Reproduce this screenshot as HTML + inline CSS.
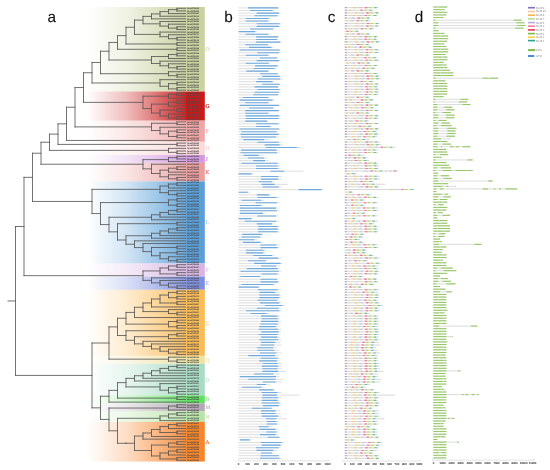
<!DOCTYPE html>
<html><head><meta charset="utf-8"><title>Phylogeny, domains, motifs and gene structure</title>
<style>html,body{margin:0;padding:0;background:#fff;}svg{display:block;}</style>
</head><body>
<svg width="550" height="470" viewBox="0 0 550 470" text-rendering="geometricPrecision">
<defs>
<linearGradient id="g0" x1="0" x2="1" y1="0" y2="0"><stop offset="0" stop-color="#ccd3a4" stop-opacity="0"/><stop offset="0.4" stop-color="#ccd3a4" stop-opacity="0.3"/><stop offset="0.7" stop-color="#ccd3a4" stop-opacity="0.63"/><stop offset="1" stop-color="#ccd3a4" stop-opacity="1"/></linearGradient>
<linearGradient id="g1" x1="0" x2="1" y1="0" y2="0"><stop offset="0" stop-color="#cc2424" stop-opacity="0"/><stop offset="0.4" stop-color="#cc2424" stop-opacity="0.3"/><stop offset="0.7" stop-color="#cc2424" stop-opacity="0.63"/><stop offset="1" stop-color="#cc2424" stop-opacity="1"/></linearGradient>
<linearGradient id="g2" x1="0" x2="1" y1="0" y2="0"><stop offset="0" stop-color="#f2b0b0" stop-opacity="0"/><stop offset="0.4" stop-color="#f2b0b0" stop-opacity="0.3"/><stop offset="0.7" stop-color="#f2b0b0" stop-opacity="0.63"/><stop offset="1" stop-color="#f2b0b0" stop-opacity="1"/></linearGradient>
<linearGradient id="g3" x1="0" x2="1" y1="0" y2="0"><stop offset="0" stop-color="#fadcdc" stop-opacity="0"/><stop offset="0.4" stop-color="#fadcdc" stop-opacity="0.3"/><stop offset="0.7" stop-color="#fadcdc" stop-opacity="0.63"/><stop offset="1" stop-color="#fadcdc" stop-opacity="1"/></linearGradient>
<linearGradient id="g4" x1="0" x2="1" y1="0" y2="0"><stop offset="0" stop-color="#d8a4e2" stop-opacity="0"/><stop offset="0.4" stop-color="#d8a4e2" stop-opacity="0.3"/><stop offset="0.7" stop-color="#d8a4e2" stop-opacity="0.63"/><stop offset="1" stop-color="#d8a4e2" stop-opacity="1"/></linearGradient>
<linearGradient id="g5" x1="0" x2="1" y1="0" y2="0"><stop offset="0" stop-color="#eea8a8" stop-opacity="0"/><stop offset="0.4" stop-color="#eea8a8" stop-opacity="0.3"/><stop offset="0.7" stop-color="#eea8a8" stop-opacity="0.63"/><stop offset="1" stop-color="#eea8a8" stop-opacity="1"/></linearGradient>
<linearGradient id="g6" x1="0" x2="1" y1="0" y2="0"><stop offset="0" stop-color="#6aa9dc" stop-opacity="0"/><stop offset="0.4" stop-color="#6aa9dc" stop-opacity="0.3"/><stop offset="0.7" stop-color="#6aa9dc" stop-opacity="0.63"/><stop offset="1" stop-color="#6aa9dc" stop-opacity="1"/></linearGradient>
<linearGradient id="g7" x1="0" x2="1" y1="0" y2="0"><stop offset="0" stop-color="#dcbce4" stop-opacity="0"/><stop offset="0.4" stop-color="#dcbce4" stop-opacity="0.3"/><stop offset="0.7" stop-color="#dcbce4" stop-opacity="0.63"/><stop offset="1" stop-color="#dcbce4" stop-opacity="1"/></linearGradient>
<linearGradient id="g8" x1="0" x2="1" y1="0" y2="0"><stop offset="0" stop-color="#8797e2" stop-opacity="0"/><stop offset="0.4" stop-color="#8797e2" stop-opacity="0.3"/><stop offset="0.7" stop-color="#8797e2" stop-opacity="0.63"/><stop offset="1" stop-color="#8797e2" stop-opacity="1"/></linearGradient>
<linearGradient id="g9" x1="0" x2="1" y1="0" y2="0"><stop offset="0" stop-color="#fbc064" stop-opacity="0"/><stop offset="0.4" stop-color="#fbc064" stop-opacity="0.3"/><stop offset="0.7" stop-color="#fbc064" stop-opacity="0.63"/><stop offset="1" stop-color="#fbc064" stop-opacity="1"/></linearGradient>
<linearGradient id="g10" x1="0" x2="1" y1="0" y2="0"><stop offset="0" stop-color="#f0e4a8" stop-opacity="0"/><stop offset="0.4" stop-color="#f0e4a8" stop-opacity="0.3"/><stop offset="0.7" stop-color="#f0e4a8" stop-opacity="0.63"/><stop offset="1" stop-color="#f0e4a8" stop-opacity="1"/></linearGradient>
<linearGradient id="g11" x1="0" x2="1" y1="0" y2="0"><stop offset="0" stop-color="#b0dfc9" stop-opacity="0"/><stop offset="0.4" stop-color="#b0dfc9" stop-opacity="0.3"/><stop offset="0.7" stop-color="#b0dfc9" stop-opacity="0.63"/><stop offset="1" stop-color="#b0dfc9" stop-opacity="1"/></linearGradient>
<linearGradient id="g12" x1="0" x2="1" y1="0" y2="0"><stop offset="0" stop-color="#70e470" stop-opacity="0"/><stop offset="0.4" stop-color="#70e470" stop-opacity="0.3"/><stop offset="0.7" stop-color="#70e470" stop-opacity="0.63"/><stop offset="1" stop-color="#70e470" stop-opacity="1"/></linearGradient>
<linearGradient id="g13" x1="0" x2="1" y1="0" y2="0"><stop offset="0" stop-color="#bab0ba" stop-opacity="0"/><stop offset="0.4" stop-color="#bab0ba" stop-opacity="0.3"/><stop offset="0.7" stop-color="#bab0ba" stop-opacity="0.63"/><stop offset="1" stop-color="#bab0ba" stop-opacity="1"/></linearGradient>
<linearGradient id="g14" x1="0" x2="1" y1="0" y2="0"><stop offset="0" stop-color="#c0e8b0" stop-opacity="0"/><stop offset="0.4" stop-color="#c0e8b0" stop-opacity="0.3"/><stop offset="0.7" stop-color="#c0e8b0" stop-opacity="0.63"/><stop offset="1" stop-color="#c0e8b0" stop-opacity="1"/></linearGradient>
<linearGradient id="g15" x1="0" x2="1" y1="0" y2="0"><stop offset="0" stop-color="#f89040" stop-opacity="0"/><stop offset="0.4" stop-color="#f89040" stop-opacity="0.3"/><stop offset="0.7" stop-color="#f89040" stop-opacity="0.63"/><stop offset="1" stop-color="#f89040" stop-opacity="1"/></linearGradient>
</defs>
<rect width="550" height="470" fill="#fff"/>
<rect x="87.0" y="6.98" width="99.0" height="84.58" fill="url(#g0)"/>
<rect x="186.0" y="6.98" width="18.8" height="84.58" fill="#cad2a0"/>
<rect x="87.0" y="91.55" width="99.0" height="29.07" fill="url(#g1)"/>
<rect x="186.0" y="91.55" width="18.8" height="29.07" fill="#c81a1a"/>
<rect x="87.0" y="120.63" width="99.0" height="21.14" fill="url(#g2)"/>
<rect x="186.0" y="120.63" width="18.8" height="21.14" fill="#f0a6a6"/>
<rect x="87.0" y="141.77" width="99.0" height="13.21" fill="url(#g3)"/>
<rect x="186.0" y="141.77" width="18.8" height="13.21" fill="#fadada"/>
<rect x="87.0" y="154.99" width="99.0" height="7.93" fill="url(#g4)"/>
<rect x="186.0" y="154.99" width="18.8" height="7.93" fill="#d49ae0"/>
<rect x="87.0" y="162.92" width="99.0" height="18.50" fill="url(#g5)"/>
<rect x="186.0" y="162.92" width="18.8" height="18.50" fill="#eb9c9c"/>
<rect x="87.0" y="181.42" width="99.0" height="81.93" fill="url(#g6)"/>
<rect x="186.0" y="181.42" width="18.8" height="81.93" fill="#5a9fd8"/>
<rect x="87.0" y="263.35" width="99.0" height="13.22" fill="url(#g7)"/>
<rect x="186.0" y="263.35" width="18.8" height="13.22" fill="#d8b4e0"/>
<rect x="87.0" y="276.56" width="99.0" height="13.22" fill="url(#g8)"/>
<rect x="186.0" y="276.56" width="18.8" height="13.22" fill="#7f8fe0"/>
<rect x="87.0" y="289.78" width="99.0" height="66.07" fill="url(#g9)"/>
<rect x="186.0" y="289.78" width="18.8" height="66.07" fill="#fbbb55"/>
<rect x="87.0" y="355.85" width="99.0" height="7.93" fill="url(#g10)"/>
<rect x="186.0" y="355.85" width="18.8" height="7.93" fill="#efe3a0"/>
<rect x="87.0" y="363.78" width="99.0" height="31.72" fill="url(#g11)"/>
<rect x="186.0" y="363.78" width="18.8" height="31.72" fill="#a8dcc4"/>
<rect x="87.0" y="395.50" width="99.0" height="7.93" fill="url(#g12)"/>
<rect x="186.0" y="395.50" width="18.8" height="7.93" fill="#60e060"/>
<rect x="87.0" y="403.43" width="99.0" height="7.93" fill="url(#g13)"/>
<rect x="186.0" y="403.43" width="18.8" height="7.93" fill="#b4a8b4"/>
<rect x="87.0" y="411.36" width="99.0" height="10.57" fill="url(#g14)"/>
<rect x="186.0" y="411.36" width="18.8" height="10.57" fill="#b8e4a8"/>
<rect x="87.0" y="421.93" width="99.0" height="39.65" fill="url(#g15)"/>
<rect x="186.0" y="421.93" width="18.8" height="39.65" fill="#f7862a"/>
<path d="M15.50 226.50L15.50 375.43M15.50 226.50L24.00 226.50M24.00 177.35L24.00 275.66M24.00 177.35L32.50 177.35M32.50 153.24L32.50 201.45M32.50 153.24L41.00 153.24M41.00 142.24L41.00 164.24M41.00 142.24L49.50 142.24M49.50 134.13L49.50 150.36M49.50 134.13L58.00 134.13M58.00 123.84L58.00 144.41M58.00 123.84L66.50 123.84M66.50 107.23L66.50 140.45M66.50 107.23L75.00 107.23M75.00 87.55L75.00 126.90M75.00 87.55L83.50 87.55M83.50 72.72L83.50 102.37M83.50 72.72L92.00 72.72M92.00 62.47L92.00 82.96M92.00 62.47L100.50 62.47M100.50 51.22L100.50 73.71M100.50 51.22L109.00 51.22M109.00 42.44L109.00 60.00M109.00 42.44L117.50 42.44M117.50 35.62L117.50 49.27M117.50 35.62L126.00 35.62M126.00 27.26L126.00 43.98M126.00 27.26L134.50 27.26M134.50 20.11L134.50 34.40M134.50 20.11L143.00 20.11M143.00 16.39L143.00 23.83M143.00 16.39L151.50 16.39M151.50 13.92L151.50 18.87M151.50 13.92L160.00 13.92M160.00 11.60L160.00 16.23M160.00 11.60L168.50 11.60M168.50 9.62L168.50 13.59M168.50 9.62L177.00 9.62M177.00 8.30L177.00 10.94M177.00 8.30L185.50 8.30M177.00 10.94L185.50 10.94M168.50 13.59L185.50 13.59M160.00 16.23L185.50 16.23M151.50 18.87L185.50 18.87M143.00 23.83L160.00 23.83M160.00 21.52L160.00 26.14M160.00 21.52L185.50 21.52M160.00 26.14L168.50 26.14M168.50 24.16L168.50 28.12M168.50 24.16L185.50 24.16M168.50 28.12L177.00 28.12M177.00 26.80L177.00 29.44M177.00 26.80L185.50 26.80M177.00 29.44L185.50 29.44M134.50 34.40L160.00 34.40M160.00 32.09L160.00 36.71M160.00 32.09L185.50 32.09M160.00 36.71L168.50 36.71M168.50 34.73L168.50 38.69M168.50 34.73L185.50 34.73M168.50 38.69L177.00 38.69M177.00 37.37L177.00 40.02M177.00 37.37L185.50 37.37M177.00 40.02L185.50 40.02M126.00 43.98L177.00 43.98M177.00 42.66L177.00 45.30M177.00 42.66L185.50 42.66M177.00 45.30L185.50 45.30M117.50 49.27L177.00 49.27M177.00 47.94L177.00 50.59M177.00 47.94L185.50 47.94M177.00 50.59L185.50 50.59M109.00 60.00L151.50 60.00M151.50 56.53L151.50 63.47M151.50 56.53L168.50 56.53M168.50 54.55L168.50 58.52M168.50 54.55L177.00 54.55M177.00 53.23L177.00 55.87M177.00 53.23L185.50 53.23M177.00 55.87L185.50 55.87M168.50 58.52L185.50 58.52M151.50 63.47L160.00 63.47M160.00 61.16L160.00 65.79M160.00 61.16L185.50 61.16M160.00 65.79L168.50 65.79M168.50 63.80L168.50 67.77M168.50 63.80L185.50 63.80M168.50 67.77L177.00 67.77M177.00 66.45L177.00 69.09M177.00 66.45L185.50 66.45M177.00 69.09L185.50 69.09M100.50 73.71L168.50 73.71M168.50 71.73L168.50 75.70M168.50 71.73L185.50 71.73M168.50 75.70L177.00 75.70M177.00 74.37L177.00 77.02M177.00 74.37L185.50 74.37M177.00 77.02L185.50 77.02M92.00 82.96L160.00 82.96M160.00 79.66L160.00 86.27M160.00 79.66L185.50 79.66M160.00 86.27L168.50 86.27M168.50 83.63L168.50 88.91M168.50 83.63L177.00 83.63M177.00 82.30L177.00 84.95M177.00 82.30L185.50 82.30M177.00 84.95L185.50 84.95M168.50 88.91L177.00 88.91M177.00 87.59L177.00 90.23M177.00 87.59L185.50 87.59M177.00 90.23L185.50 90.23M83.50 102.37L143.00 102.37M143.00 96.18L143.00 108.57M143.00 96.18L168.50 96.18M168.50 94.20L168.50 98.16M168.50 94.20L177.00 94.20M177.00 92.88L177.00 95.52M177.00 92.88L185.50 92.88M177.00 95.52L185.50 95.52M168.50 98.16L185.50 98.16M143.00 108.57L151.50 108.57M151.50 104.11L151.50 113.03M151.50 104.11L168.50 104.11M168.50 102.13L168.50 106.09M168.50 102.13L177.00 102.13M177.00 100.80L177.00 103.45M177.00 100.80L185.50 100.80M177.00 103.45L185.50 103.45M168.50 106.09L185.50 106.09M151.50 113.03L160.00 113.03M160.00 110.06L160.00 116.00M160.00 110.06L177.00 110.06M177.00 108.73L177.00 111.38M177.00 108.73L185.50 108.73M177.00 111.38L185.50 111.38M160.00 116.00L168.50 116.00M168.50 114.02L168.50 117.98M168.50 114.02L185.50 114.02M168.50 117.98L177.00 117.98M177.00 116.66L177.00 119.31M177.00 116.66L185.50 116.66M177.00 119.31L185.50 119.31M75.00 126.90L151.50 126.90M151.50 123.27L151.50 130.54M151.50 123.27L177.00 123.27M177.00 121.95L177.00 124.59M177.00 121.95L185.50 121.95M177.00 124.59L185.50 124.59M151.50 130.54L160.00 130.54M160.00 127.23L160.00 133.84M160.00 127.23L185.50 127.23M160.00 133.84L168.50 133.84M168.50 131.20L168.50 136.49M168.50 131.20L177.00 131.20M177.00 129.88L177.00 132.52M177.00 129.88L185.50 129.88M177.00 132.52L185.50 132.52M168.50 136.49L177.00 136.49M177.00 135.16L177.00 137.81M177.00 135.16L185.50 135.16M177.00 137.81L185.50 137.81M66.50 140.45L185.50 140.45M58.00 144.41L177.00 144.41M177.00 143.09L177.00 145.74M177.00 143.09L185.50 143.09M177.00 145.74L185.50 145.74M49.50 150.36L168.50 150.36M168.50 148.38L168.50 152.34M168.50 148.38L185.50 148.38M168.50 152.34L177.00 152.34M177.00 151.02L177.00 153.66M177.00 151.02L185.50 151.02M177.00 153.66L185.50 153.66M41.00 164.24L143.00 164.24M143.00 159.61L143.00 168.86M143.00 159.61L168.50 159.61M168.50 157.63L168.50 161.59M168.50 157.63L177.00 157.63M177.00 156.31L177.00 158.95M177.00 156.31L185.50 156.31M177.00 158.95L185.50 158.95M168.50 161.59L185.50 161.59M143.00 168.86L151.50 168.86M151.50 164.24L151.50 173.49M151.50 164.24L185.50 164.24M151.50 173.49L160.00 173.49M160.00 170.18L160.00 176.79M160.00 170.18L168.50 170.18M168.50 168.20L168.50 172.17M168.50 168.20L177.00 168.20M177.00 166.88L177.00 169.52M177.00 166.88L185.50 166.88M177.00 169.52L185.50 169.52M168.50 172.17L185.50 172.17M160.00 176.79L168.50 176.79M168.50 174.81L168.50 178.77M168.50 174.81L185.50 174.81M168.50 178.77L177.00 178.77M177.00 177.45L177.00 180.09M177.00 177.45L185.50 177.45M177.00 180.09L185.50 180.09M32.50 201.45L92.00 201.45M92.00 189.35L92.00 213.56M92.00 189.35L160.00 189.35M160.00 186.04L160.00 192.65M160.00 186.04L168.50 186.04M168.50 184.06L168.50 188.02M168.50 184.06L177.00 184.06M177.00 182.74L177.00 185.38M177.00 182.74L185.50 182.74M177.00 185.38L185.50 185.38M168.50 188.02L185.50 188.02M160.00 192.65L168.50 192.65M168.50 190.67L168.50 194.63M168.50 190.67L185.50 190.67M168.50 194.63L177.00 194.63M177.00 193.31L177.00 195.95M177.00 193.31L185.50 193.31M177.00 195.95L185.50 195.95M92.00 213.56L100.50 213.56M100.50 202.56L100.50 224.56M100.50 202.56L168.50 202.56M168.50 199.92L168.50 205.20M168.50 199.92L177.00 199.92M177.00 198.60L177.00 201.24M177.00 198.60L185.50 198.60M177.00 201.24L185.50 201.24M168.50 205.20L177.00 205.20M177.00 203.88L177.00 206.53M177.00 203.88L185.50 203.88M177.00 206.53L185.50 206.53M100.50 224.56L109.00 224.56M109.00 217.26L109.00 231.85M109.00 217.26L151.50 217.26M151.50 214.78L151.50 219.74M151.50 214.78L160.00 214.78M160.00 212.47L160.00 217.10M160.00 212.47L168.50 212.47M168.50 210.49L168.50 214.45M168.50 210.49L177.00 210.49M177.00 209.17L177.00 211.81M177.00 209.17L185.50 209.17M177.00 211.81L185.50 211.81M168.50 214.45L185.50 214.45M160.00 217.10L185.50 217.10M151.50 219.74L185.50 219.74M109.00 231.85L117.50 231.85M117.50 223.70L117.50 240.00M117.50 223.70L177.00 223.70M177.00 222.38L177.00 225.03M177.00 222.38L185.50 222.38M177.00 225.03L185.50 225.03M117.50 240.00L126.00 240.00M126.00 235.76L126.00 244.23M126.00 235.76L151.50 235.76M151.50 233.29L151.50 238.24M151.50 233.29L160.00 233.29M160.00 230.97L160.00 235.60M160.00 230.97L168.50 230.97M168.50 228.99L168.50 232.95M168.50 228.99L177.00 228.99M177.00 227.67L177.00 230.31M177.00 227.67L185.50 227.67M177.00 230.31L185.50 230.31M168.50 232.95L185.50 232.95M160.00 235.60L185.50 235.60M151.50 238.24L185.50 238.24M126.00 244.23L134.50 244.23M134.50 240.88L134.50 247.57M134.50 240.88L185.50 240.88M134.50 247.57L143.00 247.57M143.00 243.53L143.00 251.62M143.00 243.53L185.50 243.53M143.00 251.62L151.50 251.62M151.50 247.49L151.50 255.75M151.50 247.49L177.00 247.49M177.00 246.17L177.00 248.81M177.00 246.17L185.50 246.17M177.00 248.81L185.50 248.81M151.50 255.75L160.00 255.75M160.00 252.78L160.00 258.72M160.00 252.78L177.00 252.78M177.00 251.46L177.00 254.10M177.00 251.46L185.50 251.46M177.00 254.10L185.50 254.10M160.00 258.72L168.50 258.72M168.50 256.74L168.50 260.71M168.50 256.74L185.50 256.74M168.50 260.71L177.00 260.71M177.00 259.38L177.00 262.03M177.00 259.38L185.50 259.38M177.00 262.03L185.50 262.03M24.00 275.66L143.00 275.66M143.00 270.95L143.00 280.36M143.00 270.95L160.00 270.95M160.00 267.97L160.00 273.92M160.00 267.97L168.50 267.97M168.50 265.99L168.50 269.96M168.50 265.99L177.00 265.99M177.00 264.67L177.00 267.31M177.00 264.67L185.50 264.67M177.00 267.31L185.50 267.31M168.50 269.96L185.50 269.96M160.00 273.92L177.00 273.92M177.00 272.60L177.00 275.24M177.00 272.60L185.50 272.60M177.00 275.24L185.50 275.24M143.00 280.36L151.50 280.36M151.50 277.89L151.50 282.84M151.50 277.89L185.50 277.89M151.50 282.84L160.00 282.84M160.00 280.53L160.00 285.15M160.00 280.53L185.50 280.53M160.00 285.15L168.50 285.15M168.50 283.17L168.50 287.14M168.50 283.17L185.50 283.17M168.50 287.14L177.00 287.14M177.00 285.81L177.00 288.46M177.00 285.81L185.50 285.81M177.00 288.46L185.50 288.46M15.50 375.43L92.00 375.43M92.00 343.03L92.00 407.83M92.00 343.03L109.00 343.03M109.00 326.90L109.00 359.16M109.00 326.90L117.50 326.90M117.50 318.27L117.50 335.52M117.50 318.27L126.00 318.27M126.00 312.41L126.00 324.14M126.00 312.41L134.50 312.41M134.50 307.29L134.50 317.53M134.50 307.29L143.00 307.29M143.00 302.99L143.00 311.58M143.00 302.99L151.50 302.99M151.50 299.03L151.50 306.96M151.50 299.03L160.00 299.03M160.00 295.07L160.00 302.99M160.00 295.07L168.50 295.07M168.50 292.42L168.50 297.71M168.50 292.42L177.00 292.42M177.00 291.10L177.00 293.74M177.00 291.10L185.50 291.10M177.00 293.74L185.50 293.74M168.50 297.71L177.00 297.71M177.00 296.39L177.00 299.03M177.00 296.39L185.50 296.39M177.00 299.03L185.50 299.03M160.00 302.99L177.00 302.99M177.00 301.67L177.00 304.32M177.00 301.67L185.50 301.67M177.00 304.32L185.50 304.32M151.50 306.96L185.50 306.96M143.00 311.58L168.50 311.58M168.50 309.60L168.50 313.57M168.50 309.60L185.50 309.60M168.50 313.57L177.00 313.57M177.00 312.25L177.00 314.89M177.00 312.25L185.50 312.25M177.00 314.89L185.50 314.89M134.50 317.53L185.50 317.53M126.00 324.14L168.50 324.14M168.50 321.50L168.50 326.78M168.50 321.50L177.00 321.50M177.00 320.17L177.00 322.82M177.00 320.17L185.50 320.17M177.00 322.82L185.50 322.82M168.50 326.78L177.00 326.78M177.00 325.46L177.00 328.10M177.00 325.46L185.50 325.46M177.00 328.10L185.50 328.10M117.50 335.52L126.00 335.52M126.00 330.75L126.00 340.29M126.00 330.75L185.50 330.75M126.00 340.29L134.50 340.29M134.50 336.69L134.50 343.88M134.50 336.69L168.50 336.69M168.50 334.71L168.50 338.68M168.50 334.71L177.00 334.71M177.00 333.39L177.00 336.03M177.00 333.39L185.50 333.39M177.00 336.03L185.50 336.03M168.50 338.68L185.50 338.68M134.50 343.88L143.00 343.88M143.00 341.32L143.00 346.44M143.00 341.32L185.50 341.32M143.00 346.44L151.50 346.44M151.50 343.96L151.50 348.92M151.50 343.96L185.50 343.96M151.50 348.92L160.00 348.92M160.00 346.60L160.00 351.23M160.00 346.60L185.50 346.60M160.00 351.23L168.50 351.23M168.50 349.25L168.50 353.21M168.50 349.25L185.50 349.25M168.50 353.21L177.00 353.21M177.00 351.89L177.00 354.53M177.00 351.89L185.50 351.89M177.00 354.53L185.50 354.53M109.00 359.16L168.50 359.16M168.50 357.18L168.50 361.14M168.50 357.18L185.50 357.18M168.50 361.14L177.00 361.14M177.00 359.82L177.00 362.46M177.00 359.82L185.50 359.82M177.00 362.46L185.50 362.46M92.00 407.83L100.50 407.83M100.50 396.25L100.50 419.42M100.50 396.25L109.00 396.25M109.00 390.39L109.00 402.11M109.00 390.39L117.50 390.39M117.50 382.64L117.50 398.14M117.50 382.64L126.00 382.64M126.00 378.36L126.00 386.91M126.00 378.36L134.50 378.36M134.50 375.76L134.50 380.96M134.50 375.76L143.00 375.76M143.00 373.20L143.00 378.32M143.00 373.20L151.50 373.20M151.50 370.72L151.50 375.68M151.50 370.72L160.00 370.72M160.00 368.41L160.00 373.03M160.00 368.41L168.50 368.41M168.50 366.43L168.50 370.39M168.50 366.43L177.00 366.43M177.00 365.10L177.00 367.75M177.00 365.10L185.50 365.10M177.00 367.75L185.50 367.75M168.50 370.39L185.50 370.39M160.00 373.03L185.50 373.03M151.50 375.68L185.50 375.68M143.00 378.32L185.50 378.32M134.50 380.96L185.50 380.96M126.00 386.91L160.00 386.91M160.00 383.61L160.00 390.21M160.00 383.61L185.50 383.61M160.00 390.21L168.50 390.21M168.50 387.57L168.50 392.86M168.50 387.57L177.00 387.57M177.00 386.25L177.00 388.89M177.00 386.25L185.50 386.25M177.00 388.89L185.50 388.89M168.50 392.86L177.00 392.86M177.00 391.53L177.00 394.18M177.00 391.53L185.50 391.53M177.00 394.18L185.50 394.18M117.50 398.14L177.00 398.14M177.00 396.82L177.00 399.46M177.00 396.82L185.50 396.82M177.00 399.46L185.50 399.46M109.00 402.11L185.50 402.11M100.50 419.42L109.00 419.42M109.00 408.05L109.00 430.79M109.00 408.05L168.50 408.05M168.50 406.07L168.50 410.04M168.50 406.07L177.00 406.07M177.00 404.75L177.00 407.39M177.00 404.75L185.50 404.75M177.00 407.39L185.50 407.39M168.50 410.04L185.50 410.04M109.00 430.79L117.50 430.79M117.50 418.30L117.50 443.28M117.50 418.30L160.00 418.30M160.00 415.98L160.00 420.61M160.00 415.98L168.50 415.98M168.50 414.00L168.50 417.96M168.50 414.00L177.00 414.00M177.00 412.68L177.00 415.32M177.00 412.68L185.50 412.68M177.00 415.32L185.50 415.32M168.50 417.96L185.50 417.96M160.00 420.61L185.50 420.61M117.50 443.28L126.00 443.28M126.00 443.28L126.00 443.28M126.00 443.28L134.50 443.28M134.50 436.05L134.50 450.51M134.50 436.05L143.00 436.05M143.00 433.00L143.00 439.11M143.00 433.00L151.50 433.00M151.50 429.53L151.50 436.47M151.50 429.53L160.00 429.53M160.00 426.55L160.00 432.50M160.00 426.55L168.50 426.55M168.50 424.57L168.50 428.54M168.50 424.57L177.00 424.57M177.00 423.25L177.00 425.89M177.00 423.25L185.50 423.25M177.00 425.89L185.50 425.89M168.50 428.54L185.50 428.54M160.00 432.50L177.00 432.50M177.00 431.18L177.00 433.82M177.00 431.18L185.50 431.18M177.00 433.82L185.50 433.82M151.50 436.47L185.50 436.47M143.00 439.11L185.50 439.11M134.50 450.51L151.50 450.51M151.50 445.06L151.50 455.96M151.50 445.06L168.50 445.06M168.50 443.07L168.50 447.04M168.50 443.07L177.00 443.07M177.00 441.75L177.00 444.39M177.00 441.75L185.50 441.75M177.00 444.39L185.50 444.39M168.50 447.04L185.50 447.04M151.50 455.96L160.00 455.96M160.00 452.98L160.00 458.93M160.00 452.98L168.50 452.98M168.50 451.00L168.50 454.97M168.50 451.00L177.00 451.00M177.00 449.68L177.00 452.32M177.00 449.68L185.50 449.68M177.00 452.32L185.50 452.32M168.50 454.97L185.50 454.97M160.00 458.93L177.00 458.93M177.00 457.61L177.00 460.25M177.00 457.61L185.50 457.61M177.00 460.25L185.50 460.25M8.00 300.97L15.50 300.97" stroke="#595959" stroke-width="0.85" fill="none" stroke-linecap="square"/>
<g font-family="Liberation Sans, sans-serif" font-size="21" fill="#4e4e4e" stroke="#4e4e4e" stroke-width="0.75" transform="scale(0.1)" text-rendering="geometricPrecision">
<text x="1872" y="90.5" textLength="118" lengthAdjust="spacingAndGlyphs">BnaMYB061</text>
<text x="1872" y="116.9" textLength="118" lengthAdjust="spacingAndGlyphs">BnaMYB152</text>
<text x="1872" y="143.4" textLength="118" lengthAdjust="spacingAndGlyphs">BnaMYB140</text>
<text x="1872" y="169.8" textLength="118" lengthAdjust="spacingAndGlyphs">BnaMYB034</text>
<text x="1872" y="196.2" textLength="118" lengthAdjust="spacingAndGlyphs">BnaMYB095</text>
<text x="1872" y="222.7" textLength="118" lengthAdjust="spacingAndGlyphs">BnaMYB235</text>
<text x="1872" y="249.1" textLength="118" lengthAdjust="spacingAndGlyphs">BnaMYB155</text>
<text x="1872" y="275.5" textLength="118" lengthAdjust="spacingAndGlyphs">BnaMYB122</text>
<text x="1872" y="301.9" textLength="118" lengthAdjust="spacingAndGlyphs">BnaMYB161</text>
<text x="1872" y="328.4" textLength="118" lengthAdjust="spacingAndGlyphs">BnaMYB149</text>
<text x="1872" y="354.8" textLength="118" lengthAdjust="spacingAndGlyphs">BnaMYB017</text>
<text x="1872" y="381.2" textLength="118" lengthAdjust="spacingAndGlyphs">BnaMYB156</text>
<text x="1872" y="407.7" textLength="118" lengthAdjust="spacingAndGlyphs">BnaMYB004</text>
<text x="1872" y="434.1" textLength="118" lengthAdjust="spacingAndGlyphs">BnaMYB233</text>
<text x="1872" y="460.5" textLength="118" lengthAdjust="spacingAndGlyphs">BnaMYB215</text>
<text x="1872" y="486.9" textLength="118" lengthAdjust="spacingAndGlyphs">BnaMYB121</text>
<text x="1872" y="513.4" textLength="118" lengthAdjust="spacingAndGlyphs">BnaMYB067</text>
<text x="1872" y="539.8" textLength="118" lengthAdjust="spacingAndGlyphs">BnaMYB142</text>
<text x="1872" y="566.2" textLength="118" lengthAdjust="spacingAndGlyphs">BnaMYB060</text>
<text x="1872" y="592.7" textLength="118" lengthAdjust="spacingAndGlyphs">BnaMYB050</text>
<text x="1872" y="619.1" textLength="118" lengthAdjust="spacingAndGlyphs">BnaMYB184</text>
<text x="1872" y="645.5" textLength="118" lengthAdjust="spacingAndGlyphs">BnaMYB121</text>
<text x="1872" y="672.0" textLength="118" lengthAdjust="spacingAndGlyphs">BnaMYB139</text>
<text x="1872" y="698.4" textLength="118" lengthAdjust="spacingAndGlyphs">BnaMYB215</text>
<text x="1872" y="724.8" textLength="118" lengthAdjust="spacingAndGlyphs">BnaMYB141</text>
<text x="1872" y="751.2" textLength="118" lengthAdjust="spacingAndGlyphs">BnaMYB122</text>
<text x="1872" y="777.7" textLength="118" lengthAdjust="spacingAndGlyphs">BnaMYB102</text>
<text x="1872" y="804.1" textLength="118" lengthAdjust="spacingAndGlyphs">BnaMYB164</text>
<text x="1872" y="830.5" textLength="118" lengthAdjust="spacingAndGlyphs">BnaMYB221</text>
<text x="1872" y="857.0" textLength="118" lengthAdjust="spacingAndGlyphs">BnaMYB039</text>
<text x="1872" y="883.4" textLength="118" lengthAdjust="spacingAndGlyphs">BnaMYB060</text>
<text x="1872" y="909.8" textLength="118" lengthAdjust="spacingAndGlyphs">BnaMYB163</text>
<text x="1872" y="936.3" textLength="118" lengthAdjust="spacingAndGlyphs">BnaMYB039</text>
<text x="1872" y="962.7" textLength="118" lengthAdjust="spacingAndGlyphs">BnaMYB223</text>
<text x="1872" y="989.1" textLength="118" lengthAdjust="spacingAndGlyphs">BnaMYB238</text>
<text x="1872" y="1015.5" textLength="118" lengthAdjust="spacingAndGlyphs">BnaMYB134</text>
<text x="1872" y="1042.0" textLength="118" lengthAdjust="spacingAndGlyphs">BnaMYB100</text>
<text x="1872" y="1068.4" textLength="118" lengthAdjust="spacingAndGlyphs">BnaMYB190</text>
<text x="1872" y="1094.8" textLength="118" lengthAdjust="spacingAndGlyphs">BnaMYB004</text>
<text x="1872" y="1121.3" textLength="118" lengthAdjust="spacingAndGlyphs">BnaMYB172</text>
<text x="1872" y="1147.7" textLength="118" lengthAdjust="spacingAndGlyphs">BnaMYB199</text>
<text x="1872" y="1174.1" textLength="118" lengthAdjust="spacingAndGlyphs">BnaMYB017</text>
<text x="1872" y="1200.6" textLength="118" lengthAdjust="spacingAndGlyphs">BnaMYB041</text>
<text x="1872" y="1227.0" textLength="118" lengthAdjust="spacingAndGlyphs">BnaMYB195</text>
<text x="1872" y="1253.4" textLength="118" lengthAdjust="spacingAndGlyphs">BnaMYB246</text>
<text x="1872" y="1279.8" textLength="118" lengthAdjust="spacingAndGlyphs">BnaMYB152</text>
<text x="1872" y="1306.3" textLength="118" lengthAdjust="spacingAndGlyphs">BnaMYB011</text>
<text x="1872" y="1332.7" textLength="118" lengthAdjust="spacingAndGlyphs">BnaMYB078</text>
<text x="1872" y="1359.1" textLength="118" lengthAdjust="spacingAndGlyphs">BnaMYB200</text>
<text x="1872" y="1385.6" textLength="118" lengthAdjust="spacingAndGlyphs">BnaMYB008</text>
<text x="1872" y="1412.0" textLength="118" lengthAdjust="spacingAndGlyphs">BnaMYB211</text>
<text x="1872" y="1438.4" textLength="118" lengthAdjust="spacingAndGlyphs">BnaMYB222</text>
<text x="1872" y="1464.9" textLength="118" lengthAdjust="spacingAndGlyphs">BnaMYB069</text>
<text x="1872" y="1491.3" textLength="118" lengthAdjust="spacingAndGlyphs">BnaMYB122</text>
<text x="1872" y="1517.7" textLength="118" lengthAdjust="spacingAndGlyphs">BnaMYB153</text>
<text x="1872" y="1544.1" textLength="118" lengthAdjust="spacingAndGlyphs">BnaMYB185</text>
<text x="1872" y="1570.6" textLength="118" lengthAdjust="spacingAndGlyphs">BnaMYB236</text>
<text x="1872" y="1597.0" textLength="118" lengthAdjust="spacingAndGlyphs">BnaMYB225</text>
<text x="1872" y="1623.4" textLength="118" lengthAdjust="spacingAndGlyphs">BnaMYB100</text>
<text x="1872" y="1649.9" textLength="118" lengthAdjust="spacingAndGlyphs">BnaMYB183</text>
<text x="1872" y="1676.3" textLength="118" lengthAdjust="spacingAndGlyphs">BnaMYB202</text>
<text x="1872" y="1702.7" textLength="118" lengthAdjust="spacingAndGlyphs">BnaMYB236</text>
<text x="1872" y="1729.2" textLength="118" lengthAdjust="spacingAndGlyphs">BnaMYB110</text>
<text x="1872" y="1755.6" textLength="118" lengthAdjust="spacingAndGlyphs">BnaMYB102</text>
<text x="1872" y="1782.0" textLength="118" lengthAdjust="spacingAndGlyphs">BnaMYB187</text>
<text x="1872" y="1808.5" textLength="118" lengthAdjust="spacingAndGlyphs">BnaMYB206</text>
<text x="1872" y="1834.9" textLength="118" lengthAdjust="spacingAndGlyphs">BnaMYB148</text>
<text x="1872" y="1861.3" textLength="118" lengthAdjust="spacingAndGlyphs">BnaMYB114</text>
<text x="1872" y="1887.7" textLength="118" lengthAdjust="spacingAndGlyphs">BnaMYB247</text>
<text x="1872" y="1914.2" textLength="118" lengthAdjust="spacingAndGlyphs">BnaMYB240</text>
<text x="1872" y="1940.6" textLength="118" lengthAdjust="spacingAndGlyphs">BnaMYB035</text>
<text x="1872" y="1967.0" textLength="118" lengthAdjust="spacingAndGlyphs">BnaMYB225</text>
<text x="1872" y="1993.5" textLength="118" lengthAdjust="spacingAndGlyphs">BnaMYB094</text>
<text x="1872" y="2019.9" textLength="118" lengthAdjust="spacingAndGlyphs">BnaMYB025</text>
<text x="1872" y="2046.3" textLength="118" lengthAdjust="spacingAndGlyphs">BnaMYB010</text>
<text x="1872" y="2072.8" textLength="118" lengthAdjust="spacingAndGlyphs">BnaMYB035</text>
<text x="1872" y="2099.2" textLength="118" lengthAdjust="spacingAndGlyphs">BnaMYB127</text>
<text x="1872" y="2125.6" textLength="118" lengthAdjust="spacingAndGlyphs">BnaMYB056</text>
<text x="1872" y="2152.0" textLength="118" lengthAdjust="spacingAndGlyphs">BnaMYB067</text>
<text x="1872" y="2178.5" textLength="118" lengthAdjust="spacingAndGlyphs">BnaMYB248</text>
<text x="1872" y="2204.9" textLength="118" lengthAdjust="spacingAndGlyphs">BnaMYB173</text>
<text x="1872" y="2231.3" textLength="118" lengthAdjust="spacingAndGlyphs">BnaMYB112</text>
<text x="1872" y="2257.8" textLength="118" lengthAdjust="spacingAndGlyphs">BnaMYB200</text>
<text x="1872" y="2284.2" textLength="118" lengthAdjust="spacingAndGlyphs">BnaMYB161</text>
<text x="1872" y="2310.6" textLength="118" lengthAdjust="spacingAndGlyphs">BnaMYB219</text>
<text x="1872" y="2337.0" textLength="118" lengthAdjust="spacingAndGlyphs">BnaMYB078</text>
<text x="1872" y="2363.5" textLength="118" lengthAdjust="spacingAndGlyphs">BnaMYB108</text>
<text x="1872" y="2389.9" textLength="118" lengthAdjust="spacingAndGlyphs">BnaMYB130</text>
<text x="1872" y="2416.3" textLength="118" lengthAdjust="spacingAndGlyphs">BnaMYB214</text>
<text x="1872" y="2442.8" textLength="118" lengthAdjust="spacingAndGlyphs">BnaMYB099</text>
<text x="1872" y="2469.2" textLength="118" lengthAdjust="spacingAndGlyphs">BnaMYB147</text>
<text x="1872" y="2495.6" textLength="118" lengthAdjust="spacingAndGlyphs">BnaMYB090</text>
<text x="1872" y="2522.1" textLength="118" lengthAdjust="spacingAndGlyphs">BnaMYB137</text>
<text x="1872" y="2548.5" textLength="118" lengthAdjust="spacingAndGlyphs">BnaMYB150</text>
<text x="1872" y="2574.9" textLength="118" lengthAdjust="spacingAndGlyphs">BnaMYB105</text>
<text x="1872" y="2601.3" textLength="118" lengthAdjust="spacingAndGlyphs">BnaMYB150</text>
<text x="1872" y="2627.8" textLength="118" lengthAdjust="spacingAndGlyphs">BnaMYB060</text>
<text x="1872" y="2654.2" textLength="118" lengthAdjust="spacingAndGlyphs">BnaMYB232</text>
<text x="1872" y="2680.6" textLength="118" lengthAdjust="spacingAndGlyphs">BnaMYB087</text>
<text x="1872" y="2707.1" textLength="118" lengthAdjust="spacingAndGlyphs">BnaMYB175</text>
<text x="1872" y="2733.5" textLength="118" lengthAdjust="spacingAndGlyphs">BnaMYB235</text>
<text x="1872" y="2759.9" textLength="118" lengthAdjust="spacingAndGlyphs">BnaMYB238</text>
<text x="1872" y="2786.4" textLength="118" lengthAdjust="spacingAndGlyphs">BnaMYB008</text>
<text x="1872" y="2812.8" textLength="118" lengthAdjust="spacingAndGlyphs">BnaMYB220</text>
<text x="1872" y="2839.2" textLength="118" lengthAdjust="spacingAndGlyphs">BnaMYB072</text>
<text x="1872" y="2865.7" textLength="118" lengthAdjust="spacingAndGlyphs">BnaMYB156</text>
<text x="1872" y="2892.1" textLength="118" lengthAdjust="spacingAndGlyphs">BnaMYB172</text>
<text x="1872" y="2918.5" textLength="118" lengthAdjust="spacingAndGlyphs">BnaMYB179</text>
<text x="1872" y="2944.9" textLength="118" lengthAdjust="spacingAndGlyphs">BnaMYB042</text>
<text x="1872" y="2971.4" textLength="118" lengthAdjust="spacingAndGlyphs">BnaMYB179</text>
<text x="1872" y="2997.8" textLength="118" lengthAdjust="spacingAndGlyphs">BnaMYB221</text>
<text x="1872" y="3024.2" textLength="118" lengthAdjust="spacingAndGlyphs">BnaMYB084</text>
<text x="1872" y="3050.7" textLength="118" lengthAdjust="spacingAndGlyphs">BnaMYB247</text>
<text x="1872" y="3077.1" textLength="118" lengthAdjust="spacingAndGlyphs">BnaMYB139</text>
<text x="1872" y="3103.5" textLength="118" lengthAdjust="spacingAndGlyphs">BnaMYB232</text>
<text x="1872" y="3129.9" textLength="118" lengthAdjust="spacingAndGlyphs">BnaMYB147</text>
<text x="1872" y="3156.4" textLength="118" lengthAdjust="spacingAndGlyphs">BnaMYB146</text>
<text x="1872" y="3182.8" textLength="118" lengthAdjust="spacingAndGlyphs">BnaMYB027</text>
<text x="1872" y="3209.2" textLength="118" lengthAdjust="spacingAndGlyphs">BnaMYB183</text>
<text x="1872" y="3235.7" textLength="118" lengthAdjust="spacingAndGlyphs">BnaMYB168</text>
<text x="1872" y="3262.1" textLength="118" lengthAdjust="spacingAndGlyphs">BnaMYB055</text>
<text x="1872" y="3288.5" textLength="118" lengthAdjust="spacingAndGlyphs">BnaMYB163</text>
<text x="1872" y="3315.0" textLength="118" lengthAdjust="spacingAndGlyphs">BnaMYB213</text>
<text x="1872" y="3341.4" textLength="118" lengthAdjust="spacingAndGlyphs">BnaMYB147</text>
<text x="1872" y="3367.8" textLength="118" lengthAdjust="spacingAndGlyphs">BnaMYB069</text>
<text x="1872" y="3394.2" textLength="118" lengthAdjust="spacingAndGlyphs">BnaMYB073</text>
<text x="1872" y="3420.7" textLength="118" lengthAdjust="spacingAndGlyphs">BnaMYB032</text>
<text x="1872" y="3447.1" textLength="118" lengthAdjust="spacingAndGlyphs">BnaMYB017</text>
<text x="1872" y="3473.5" textLength="118" lengthAdjust="spacingAndGlyphs">BnaMYB124</text>
<text x="1872" y="3500.0" textLength="118" lengthAdjust="spacingAndGlyphs">BnaMYB219</text>
<text x="1872" y="3526.4" textLength="118" lengthAdjust="spacingAndGlyphs">BnaMYB164</text>
<text x="1872" y="3552.8" textLength="118" lengthAdjust="spacingAndGlyphs">BnaMYB124</text>
<text x="1872" y="3579.3" textLength="118" lengthAdjust="spacingAndGlyphs">BnaMYB023</text>
<text x="1872" y="3605.7" textLength="118" lengthAdjust="spacingAndGlyphs">BnaMYB089</text>
<text x="1872" y="3632.1" textLength="118" lengthAdjust="spacingAndGlyphs">BnaMYB205</text>
<text x="1872" y="3658.5" textLength="118" lengthAdjust="spacingAndGlyphs">BnaMYB018</text>
<text x="1872" y="3685.0" textLength="118" lengthAdjust="spacingAndGlyphs">BnaMYB106</text>
<text x="1872" y="3711.4" textLength="118" lengthAdjust="spacingAndGlyphs">BnaMYB230</text>
<text x="1872" y="3737.8" textLength="118" lengthAdjust="spacingAndGlyphs">BnaMYB039</text>
<text x="1872" y="3764.3" textLength="118" lengthAdjust="spacingAndGlyphs">BnaMYB006</text>
<text x="1872" y="3790.7" textLength="118" lengthAdjust="spacingAndGlyphs">BnaMYB076</text>
<text x="1872" y="3817.1" textLength="118" lengthAdjust="spacingAndGlyphs">BnaMYB110</text>
<text x="1872" y="3843.6" textLength="118" lengthAdjust="spacingAndGlyphs">BnaMYB197</text>
<text x="1872" y="3870.0" textLength="118" lengthAdjust="spacingAndGlyphs">BnaMYB107</text>
<text x="1872" y="3896.4" textLength="118" lengthAdjust="spacingAndGlyphs">BnaMYB224</text>
<text x="1872" y="3922.8" textLength="118" lengthAdjust="spacingAndGlyphs">BnaMYB031</text>
<text x="1872" y="3949.3" textLength="118" lengthAdjust="spacingAndGlyphs">BnaMYB012</text>
<text x="1872" y="3975.7" textLength="118" lengthAdjust="spacingAndGlyphs">BnaMYB155</text>
<text x="1872" y="4002.1" textLength="118" lengthAdjust="spacingAndGlyphs">BnaMYB158</text>
<text x="1872" y="4028.6" textLength="118" lengthAdjust="spacingAndGlyphs">BnaMYB195</text>
<text x="1872" y="4055.0" textLength="118" lengthAdjust="spacingAndGlyphs">BnaMYB012</text>
<text x="1872" y="4081.4" textLength="118" lengthAdjust="spacingAndGlyphs">BnaMYB097</text>
<text x="1872" y="4107.9" textLength="118" lengthAdjust="spacingAndGlyphs">BnaMYB184</text>
<text x="1872" y="4134.3" textLength="118" lengthAdjust="spacingAndGlyphs">BnaMYB151</text>
<text x="1872" y="4160.7" textLength="118" lengthAdjust="spacingAndGlyphs">BnaMYB085</text>
<text x="1872" y="4187.1" textLength="118" lengthAdjust="spacingAndGlyphs">BnaMYB142</text>
<text x="1872" y="4213.6" textLength="118" lengthAdjust="spacingAndGlyphs">BnaMYB226</text>
<text x="1872" y="4240.0" textLength="118" lengthAdjust="spacingAndGlyphs">BnaMYB237</text>
<text x="1872" y="4266.4" textLength="118" lengthAdjust="spacingAndGlyphs">BnaMYB072</text>
<text x="1872" y="4292.9" textLength="118" lengthAdjust="spacingAndGlyphs">BnaMYB130</text>
<text x="1872" y="4319.3" textLength="118" lengthAdjust="spacingAndGlyphs">BnaMYB061</text>
<text x="1872" y="4345.7" textLength="118" lengthAdjust="spacingAndGlyphs">BnaMYB010</text>
<text x="1872" y="4372.2" textLength="118" lengthAdjust="spacingAndGlyphs">BnaMYB080</text>
<text x="1872" y="4398.6" textLength="118" lengthAdjust="spacingAndGlyphs">BnaMYB002</text>
<text x="1872" y="4425.0" textLength="118" lengthAdjust="spacingAndGlyphs">BnaMYB020</text>
<text x="1872" y="4451.4" textLength="118" lengthAdjust="spacingAndGlyphs">BnaMYB028</text>
<text x="1872" y="4477.9" textLength="118" lengthAdjust="spacingAndGlyphs">BnaMYB154</text>
<text x="1872" y="4504.3" textLength="118" lengthAdjust="spacingAndGlyphs">BnaMYB138</text>
<text x="1872" y="4530.7" textLength="118" lengthAdjust="spacingAndGlyphs">BnaMYB009</text>
<text x="1872" y="4557.2" textLength="118" lengthAdjust="spacingAndGlyphs">BnaMYB243</text>
<text x="1872" y="4583.6" textLength="118" lengthAdjust="spacingAndGlyphs">BnaMYB051</text>
<text x="1872" y="4610.0" textLength="118" lengthAdjust="spacingAndGlyphs">BnaMYB249</text>
</g>
<g font-family="Liberation Serif, serif" font-size="5.6">
<text x="205.6" y="51.27" fill="#d4dab0" stroke="#d4dab0" stroke-width="0.18">O</text>
<text x="205.6" y="108.09" fill="#c00000" stroke="#c00000" stroke-width="0.18">G</text>
<text x="205.6" y="133.20" fill="#f5b0b0" stroke="#f5b0b0" stroke-width="0.18">P</text>
<text x="205.6" y="150.38" fill="#f8d4d4" stroke="#f8d4d4" stroke-width="0.18">H</text>
<text x="205.6" y="160.95" fill="#c784d8" stroke="#c784d8" stroke-width="0.18">J</text>
<text x="205.6" y="174.17" fill="#e07a7a" stroke="#e07a7a" stroke-width="0.18">K</text>
<text x="205.6" y="224.38" fill="#a8cbee" stroke="#a8cbee" stroke-width="0.18">L</text>
<text x="205.6" y="271.96" fill="#ddc8ea" stroke="#ddc8ea" stroke-width="0.18">F</text>
<text x="205.6" y="285.17" fill="#a8b4ec" stroke="#a8b4ec" stroke-width="0.18">E</text>
<text x="205.6" y="324.82" fill="#f9d090" stroke="#f9d090" stroke-width="0.18">C</text>
<text x="205.6" y="361.82" fill="#eee4b0" stroke="#eee4b0" stroke-width="0.18">Q</text>
<text x="205.6" y="381.64" fill="#c0e4d8" stroke="#c0e4d8" stroke-width="0.18">D</text>
<text x="205.6" y="401.46" fill="#90e890" stroke="#90e890" stroke-width="0.18">B</text>
<text x="205.6" y="409.39" fill="#c8bcc8" stroke="#c8bcc8" stroke-width="0.18">M</text>
<text x="205.6" y="418.64" fill="#c8eab8" stroke="#c8eab8" stroke-width="0.18">N</text>
<text x="205.6" y="443.75" fill="#f07020" stroke="#f07020" stroke-width="0.18">A</text>
</g>
<g font-family="Liberation Sans, sans-serif" font-size="15.3" fill="#111" stroke="#111" stroke-width="0.12">
<text x="47.6" y="22.0">a</text>
<text x="224.3" y="21.8">b</text>
<text x="327.7" y="22.0">c</text>
<text x="414.7" y="22.1">d</text>
</g>
<path d="M238.3 7.90H279.6M238.3 10.53H274.2M238.3 13.17H280.7M238.3 15.80H279.1M238.3 18.44H269.8M238.3 21.07H270.4M238.3 23.70H280.7M238.3 26.34H280.7M238.3 28.97H274.7M238.3 31.61H256.7M238.3 34.24H270.4M238.3 36.87H279.6M238.3 39.51H278.5M238.3 42.14H281.8M238.3 44.78H268.7M238.3 47.41H273.1M238.3 50.04H280.7M238.3 52.68H280.7M238.3 55.31H269.8M238.3 57.95H278.0M238.3 60.58H280.7M238.3 63.21H270.4M238.3 65.85H279.1M238.3 68.48H276.9M238.3 71.12H269.8M238.3 73.75H279.1M238.3 76.38H281.3M238.3 79.02H282.9M238.3 81.65H274.2M238.3 84.29H280.7M238.3 86.92H279.1M238.3 89.55H280.7M238.3 92.19H280.7M238.3 94.82H279.6M238.3 97.46H269.8M238.3 100.09H274.2M238.3 102.72H269.8M238.3 105.36H280.7M238.3 107.99H274.7M238.3 110.63H280.2M238.3 113.26H269.3M238.3 115.89H280.7M238.3 118.53H280.2M238.3 121.16H268.7M238.3 123.80H280.2M238.3 126.43H272.0M238.3 129.06H280.7M238.3 131.70H278.0M238.3 134.33H280.5M238.3 136.97H278.7M238.3 139.60H269.6M238.3 142.23H281.5M238.3 144.87H283.3M238.3 147.50H300.5M238.3 150.14H279.6M238.3 152.77H279.6M238.3 155.40H263.3M238.3 158.04H266.9M238.3 160.67H268.7M238.3 163.31H279.6M238.3 165.94H280.5M238.3 168.57H280.5M238.3 171.21H303.3M238.3 173.84H254.2M238.3 176.48H281.5M238.3 179.11H281.5M238.3 181.74H274.2M238.3 184.38H287.8M238.3 187.01H281.5M238.3 189.65H323.3M238.3 192.28H249.6M238.3 194.91H271.5M238.3 197.55H279.6M238.3 200.18H264.2M238.3 202.82H279.6M238.3 205.45H263.3M238.3 208.08H279.6M238.3 210.72H279.6M238.3 213.35H265.1M238.3 215.99H278.7M238.3 218.62H252.4M238.3 221.25H279.3M238.3 223.89H275.1M238.3 226.52H279.6M238.3 229.16H279.6M238.3 231.79H279.6M238.3 234.42H263.3M238.3 237.06H262.4M238.3 239.69H257.8M238.3 242.33H263.3M238.3 244.96H279.6M238.3 247.59H279.6M238.3 250.23H266.0M238.3 252.86H266.0M238.3 255.50H274.2M238.3 258.13H281.5M238.3 260.76H267.3M238.3 263.40H282.4M238.3 266.03H279.6M238.3 268.67H279.6M238.3 271.30H281.1M238.3 273.93H279.6M238.3 276.57H261.5M238.3 279.20H278.7M238.3 281.84H279.6M238.3 284.47H275.1M238.3 287.10H259.6M238.3 289.74H281.1M238.3 292.37H279.6M238.3 295.01H281.1M238.3 297.64H281.1M238.3 300.27H279.6M238.3 302.91H281.5M238.3 305.54H285.1M238.3 308.18H281.1M238.3 310.81H281.5M238.3 313.44H269.6M238.3 316.08H280.0M238.3 318.71H280.0M238.3 321.35H281.1M238.3 323.98H280.5M238.3 326.61H279.3M238.3 329.25H281.1M238.3 331.88H281.1M238.3 334.52H280.5M238.3 337.15H280.0M238.3 339.78H281.1M238.3 342.42H280.5M238.3 345.05H281.5M238.3 347.69H276.9M238.3 350.32H278.7M238.3 352.95H281.5M238.3 355.59H278.7M238.3 358.22H279.6M238.3 360.86H279.6M238.3 363.49H281.5M238.3 366.12H281.5M238.3 368.76H281.5M238.3 371.39H286.0M238.3 374.03H279.6M238.3 376.66H279.6M238.3 379.29H283.3M238.3 381.93H281.5M238.3 384.56H269.6M238.3 387.20H265.1M238.3 389.83H275.1M238.3 392.46H281.5M238.3 395.10H299.6M238.3 397.73H281.1M238.3 400.37H279.6M238.3 403.00H281.5M238.3 405.63H280.5M238.3 408.27H272.4M238.3 410.90H280.5M238.3 413.54H280.5M238.3 416.17H281.5M238.3 418.80H286.9M238.3 421.44H278.7M238.3 424.07H279.6M238.3 426.71H271.5M238.3 429.34H278.7M238.3 431.97H279.3M238.3 434.61H278.7M238.3 437.24H280.5M238.3 439.88H252.4M238.3 442.51H284.2M238.3 445.14H282.4M238.3 447.78H280.5M238.3 450.41H277.8M238.3 453.05H274.2M238.3 455.68H280.5M238.3 458.31H281.1" stroke="#c8c8c8" stroke-width="0.6" fill="none"/>
<path d="M248.0 7.90H278.0M250.2 10.53H272.5M256.7 13.17H279.1M254.5 15.80H277.4M245.8 18.44H268.7M245.8 21.07H268.2M256.7 23.70H279.6M256.7 26.34H279.1M250.2 28.97H273.1M238.7 31.61H255.1M245.8 34.24H268.2M256.2 36.87H278.0M256.2 39.51H276.9M256.2 42.14H280.2M245.3 44.78H268.2M249.1 47.41H271.4M239.8 50.04H279.6M257.3 52.68H279.1M245.8 55.31H268.2M260.0 57.95H276.9M256.7 60.58H279.1M245.8 63.21H268.7M255.1 65.85H277.4M254.0 68.48H274.7M246.4 71.12H268.2M260.0 73.75H277.4M262.2 76.38H279.6M257.8 79.02H280.2M256.2 81.65H272.5M262.2 84.29H279.6M254.5 86.92H278.0M257.3 89.55H279.6M254.5 92.19H279.1M253.4 94.82H278.0M243.1 97.46H268.2M239.8 100.09H272.5M245.3 102.72H268.2M239.8 105.36H279.1M249.1 107.99H273.1M245.3 110.63H278.5M245.3 113.26H268.2M245.8 115.89H279.1M245.8 118.53H278.5M245.3 121.16H267.1M256.2 123.80H278.5M256.2 126.43H270.4M239.8 129.06H279.1M241.5 131.70H276.3M240.5 134.33H278.7M241.1 136.97H276.0M243.3 139.60H264.2M257.5 142.23H278.7M264.7 144.87H279.6M266.0 147.50H296.9M241.1 150.14H276.4M240.5 152.77H276.9M243.6 155.40H258.7M247.8 158.04H264.2M253.3 160.67H265.1M241.5 163.31H277.5M256.0 165.94H277.8M256.0 168.57H277.8M270.5 171.21H284.2M238.7 173.84H251.5M261.1 176.48H278.2M261.1 179.11H278.2M258.7 181.74H272.0M261.5 184.38H274.5M262.4 187.01H278.7M298.7 189.65H321.5M238.7 192.28H247.8M256.9 194.91H269.1M257.5 197.55H276.4M241.8 200.18H261.1M255.6 202.82H276.9M240.0 205.45H261.1M240.0 208.08H276.0M240.0 210.72H276.9M240.0 213.35H262.9M257.5 215.99H276.0M238.7 218.62H251.5M244.7 221.25H276.0M256.9 223.89H272.0M258.2 226.52H277.5M258.2 229.16H277.8M258.2 231.79H277.5M242.4 234.42H261.8M241.5 237.06H260.0M238.7 239.69H254.2M242.9 242.33H260.5M260.5 244.96H276.4M260.5 247.59H277.5M246.0 250.23H263.6M246.0 252.86H263.3M253.3 255.50H272.0M258.7 258.13H278.2M247.8 260.76H265.5M254.2 263.40H280.5M261.1 266.03H276.0M246.9 268.67H277.5M240.5 271.30H278.7M261.5 273.93H277.5M240.5 276.57H260.0M260.5 279.20H276.9M260.5 281.84H278.2M241.5 284.47H273.3M238.7 287.10H258.7M257.8 289.74H277.8M259.6 292.37H275.1M259.3 295.01H279.3M259.3 297.64H279.3M257.5 300.27H276.9M260.0 302.91H279.3M265.1 305.54H282.4M256.9 308.18H278.7M246.0 310.81H279.3M250.5 313.44H266.5M261.1 316.08H277.5M261.8 318.71H277.8M261.1 321.35H278.2M260.5 323.98H277.8M259.3 326.61H275.6M258.7 329.25H278.2M261.1 331.88H278.7M258.7 334.52H277.5M261.1 337.15H277.5M259.3 339.78H278.2M261.1 342.42H275.1M260.5 345.05H274.2M256.9 347.69H273.3M257.5 350.32H274.2M260.0 352.95H276.4M248.4 355.59H275.1M260.5 358.22H277.8M259.3 360.86H276.9M262.9 363.49H277.5M261.8 366.12H278.2M262.4 368.76H277.5M262.4 371.39H278.2M254.2 374.03H273.3M240.0 376.66H276.0M248.4 379.29H275.6M262.9 381.93H275.6M256.9 384.56H266.0M242.4 387.20H261.5M259.3 389.83H273.3M261.8 392.46H277.5M262.4 395.10H276.9M261.8 397.73H278.2M261.8 400.37H277.5M261.8 403.00H279.3M262.9 405.63H278.7M252.0 408.27H271.5M261.1 410.90H275.6M261.1 413.54H275.6M261.8 416.17H278.2M266.0 418.80H276.4M266.9 421.44H276.4M266.9 424.07H276.9M258.7 426.71H268.7M259.6 429.34H275.6M266.5 431.97H276.4M260.0 434.61H275.6M267.8 437.24H279.3M240.0 439.88H249.6M261.1 442.51H281.5M261.8 445.14H280.5M256.0 447.78H278.7M256.4 450.41H273.3M261.1 453.05H272.0M260.5 455.68H278.7M260.0 458.31H279.6" stroke="#6eaadd" stroke-width="1.1" fill="none"/>
<path d="M238.2 460.9H328.8M238.2 460.9v-1.2M328.8 460.9v-1.2" stroke="#c4c4c4" stroke-width="0.5" fill="none"/><g font-family="Liberation Sans, sans-serif" font-size="2.75" fill="#2a2a2a" stroke="#2a2a2a" stroke-width="0.08" text-anchor="middle"><text x="238.6" y="464.8">0</text><text x="247.5" y="464.8">100</text><text x="256.4" y="464.8">200</text><text x="265.3" y="464.8">300</text><text x="274.2" y="464.8">400</text><text x="283.1" y="464.8">500</text><text x="291.9" y="464.8">600</text><text x="300.8" y="464.8">700</text><text x="309.7" y="464.8">800</text><text x="318.6" y="464.8">900</text><text x="327.5" y="464.8">1000</text></g>
<path d="M344.4 7.60H378.3M344.4 10.24H373.8M344.4 12.87H379.2M344.4 15.51H377.9M344.4 18.14H370.1M344.4 20.78H370.6M344.4 23.42H379.2M344.4 26.05H379.2M344.4 28.69H374.2M344.4 31.32H359.2M344.4 33.96H370.6M344.4 36.60H378.3M344.4 39.23H377.4M344.4 41.87H380.1M344.4 44.50H369.2M344.4 47.14H372.9M344.4 49.78H379.2M344.4 52.41H379.2M344.4 55.05H370.1M344.4 57.68H376.9M344.4 60.32H379.2M344.4 62.96H370.6M344.4 65.59H377.9M344.4 68.23H376.0M344.4 70.86H370.1M344.4 73.50H377.9M344.4 76.14H379.7M344.4 78.77H381.0M344.4 81.41H373.8M344.4 84.04H379.2M344.4 86.68H377.9M344.4 89.32H379.2M344.4 91.95H379.2M344.4 94.59H378.3M344.4 97.22H370.1M344.4 99.86H373.8M344.4 102.50H370.1M344.4 105.13H379.2M344.4 107.77H374.2M344.4 110.40H378.8M344.4 113.04H369.7M344.4 115.68H379.2M344.4 118.31H378.8M344.4 120.95H369.2M344.4 123.58H378.8M344.4 126.22H371.9M344.4 128.86H379.2M344.4 131.49H376.9M344.4 134.13H379.0M344.4 136.76H377.5M344.4 139.40H369.9M344.4 142.04H379.9M344.4 144.67H381.4M344.4 147.31H395.7M344.4 149.94H378.3M344.4 152.58H378.3M344.4 155.22H364.7M344.4 157.85H367.7M344.4 160.49H369.2M344.4 163.12H378.3M344.4 165.76H379.0M344.4 168.40H379.0M344.4 171.03H398.0M344.4 173.67H357.1M344.4 176.30H379.9M344.4 178.94H379.9M344.4 181.58H373.8M344.4 184.21H385.1M344.4 186.85H379.9M344.4 189.48H414.7M344.4 192.12H353.3M344.4 194.76H371.5M344.4 197.39H378.3M344.4 200.03H365.4M344.4 202.66H378.3M344.4 205.30H364.7M344.4 207.94H378.3M344.4 210.57H378.3M344.4 213.21H366.2M344.4 215.84H377.5M344.4 218.48H355.6M344.4 221.12H378.0M344.4 223.75H374.5M344.4 226.39H378.3M344.4 229.02H378.3M344.4 231.66H378.3M344.4 234.30H364.7M344.4 236.93H363.9M344.4 239.57H360.1M344.4 242.20H364.7M344.4 244.84H378.3M344.4 247.48H378.3M344.4 250.11H366.9M344.4 252.75H366.9M344.4 255.38H373.8M344.4 258.02H379.9M344.4 260.66H368.0M344.4 263.29H380.6M344.4 265.93H378.3M344.4 268.56H378.3M344.4 271.20H379.5M344.4 273.84H378.3M344.4 276.47H363.2M344.4 279.11H377.5M344.4 281.74H378.3M344.4 284.38H374.5M344.4 287.02H361.6M344.4 289.65H379.5M344.4 292.29H378.3M344.4 294.92H379.5M344.4 297.56H379.5M344.4 300.20H378.3M344.4 302.83H379.9M344.4 305.47H382.9M344.4 308.10H379.5M344.4 310.74H379.9M344.4 313.38H369.9M344.4 316.01H378.6M344.4 318.65H378.6M344.4 321.28H379.5M344.4 323.92H379.0M344.4 326.56H378.0M344.4 329.19H379.5M344.4 331.83H379.5M344.4 334.46H379.0M344.4 337.10H378.6M344.4 339.74H379.5M344.4 342.37H379.0M344.4 345.01H379.9M344.4 347.64H376.0M344.4 350.28H377.5M344.4 352.92H379.9M344.4 355.55H377.5M344.4 358.19H378.3M344.4 360.82H378.3M344.4 363.46H379.9M344.4 366.10H379.9M344.4 368.73H379.9M344.4 371.37H383.6M344.4 374.00H378.3M344.4 376.64H378.3M344.4 379.28H381.4M344.4 381.91H379.9M344.4 384.55H369.9M344.4 387.18H366.2M344.4 389.82H374.5M344.4 392.46H379.9M344.4 395.09H394.9M344.4 397.73H379.5M344.4 400.36H378.3M344.4 403.00H379.9M344.4 405.64H379.0M344.4 408.27H372.3M344.4 410.91H379.0M344.4 413.54H379.0M344.4 416.18H379.9M344.4 418.82H384.4M344.4 421.45H377.5M344.4 424.09H378.3M344.4 426.72H371.5M344.4 429.36H377.5M344.4 432.00H378.0M344.4 434.63H377.5M344.4 437.27H379.0M344.4 439.90H355.6M344.4 442.54H382.1M344.4 445.18H380.6M344.4 447.81H379.0M344.4 450.45H376.8M344.4 453.08H373.8M344.4 455.72H379.0M344.4 458.36H379.5" stroke="#b4b4b4" stroke-width="0.55" fill="none"/>
<path d="M345.0 7.60h1.7M345.0 10.24h1.7M345.0 12.87h1.7M345.0 15.51h1.7M345.0 18.14h1.7M345.0 23.42h1.7M345.0 26.05h1.7M345.0 28.69h1.7M345.0 36.60h1.7M345.0 39.23h1.7M345.0 41.87h1.7M345.0 47.14h1.7M345.0 49.78h1.7M345.0 52.41h1.7M345.0 55.05h1.7M345.0 57.68h1.7M345.0 60.32h1.7M345.0 65.59h1.7M345.0 68.23h1.7M345.0 73.50h1.7M345.0 76.14h1.7M345.0 78.77h1.7M345.0 81.41h1.7M345.0 84.04h1.7M345.0 86.68h1.7M345.0 89.32h1.7M345.0 91.95h1.7M345.0 94.59h1.7M345.0 99.86h1.7M345.0 105.13h1.7M345.0 107.77h1.7M345.0 110.40h1.7M345.0 115.68h1.7M345.0 118.31h1.7M345.0 120.95h1.7M345.0 123.58h1.7M345.0 126.22h1.7M345.0 128.86h1.7M345.0 131.49h1.7M345.0 134.13h1.7M345.0 136.76h1.7M345.0 142.04h1.7M345.0 144.67h1.7M345.0 147.31h1.7M345.0 149.94h1.7M345.0 152.58h1.7M345.0 155.22h1.7M345.0 157.85h1.7M345.0 163.12h1.7M345.0 165.76h1.7M345.0 168.40h1.7M345.0 171.03h1.7M345.0 176.30h1.7M345.0 178.94h1.7M345.0 181.58h1.7M345.0 184.21h1.7M345.0 186.85h1.7M345.0 189.48h1.7M345.0 197.39h1.7M345.0 200.03h1.7M345.0 202.66h1.7M345.0 207.94h1.7M345.0 210.57h1.7M345.0 213.21h1.7M345.0 215.84h1.7M345.0 221.12h1.7M345.0 223.75h1.7M345.0 226.39h1.7M345.0 229.02h1.7M345.0 231.66h1.7M345.0 236.93h1.7M345.0 244.84h1.7M345.0 247.48h1.7M345.0 255.38h1.7M345.0 258.02h1.7M345.0 260.66h1.7M345.0 263.29h1.7M345.0 265.93h1.7M345.0 268.56h1.7M345.0 271.20h1.7M345.0 273.84h1.7M345.0 276.47h1.7M345.0 279.11h1.7M345.0 281.74h1.7M345.0 284.38h1.7M345.0 287.02h1.7M345.0 289.65h1.7M345.0 292.29h1.7M345.0 294.92h1.7M345.0 297.56h1.7M345.0 300.20h1.7M345.0 302.83h1.7M345.0 305.47h1.7M345.0 308.10h1.7M345.0 310.74h1.7M345.0 313.38h1.7M345.0 316.01h1.7M345.0 318.65h1.7M345.0 321.28h1.7M345.0 323.92h1.7M345.0 326.56h1.7M345.0 329.19h1.7M345.0 331.83h1.7M345.0 334.46h1.7M345.0 337.10h1.7M345.0 339.74h1.7M345.0 342.37h1.7M345.0 345.01h1.7M345.0 347.64h1.7M345.0 350.28h1.7M345.0 352.92h1.7M345.0 355.55h1.7M345.0 358.19h1.7M345.0 360.82h1.7M345.0 363.46h1.7M345.0 366.10h1.7M345.0 368.73h1.7M345.0 371.37h1.7M345.0 374.00h1.7M345.0 376.64h1.7M345.0 379.28h1.7M345.0 381.91h1.7M345.0 384.55h1.7M345.0 389.82h1.7M345.0 392.46h1.7M345.0 395.09h1.7M345.0 397.73h1.7M345.0 400.36h1.7M345.0 403.00h1.7M345.0 405.64h1.7M345.0 408.27h1.7M345.0 410.91h1.7M345.0 413.54h1.7M345.0 416.18h1.7M345.0 418.82h1.7M345.0 421.45h1.7M345.0 424.09h1.7M345.0 429.36h1.7M345.0 432.00h1.7M345.0 434.63h1.7M345.0 437.27h1.7M345.0 442.54h1.7M345.0 445.18h1.7M345.0 447.81h1.7M345.0 450.45h1.7M345.0 453.08h1.7M345.0 455.72h1.7M345.0 458.36h1.7" stroke="#a59cd4" stroke-width="1.05" fill="none"/>
<path d="M347.3 7.60h1.3M347.8 12.87h1.3M347.5 15.51h1.3M347.3 23.42h1.3M347.3 26.05h1.3M348.1 36.60h1.3M347.4 39.23h1.3M347.5 41.87h1.3M348.0 49.78h1.3M347.6 52.41h1.3M348.0 57.68h1.3M347.8 68.23h1.3M347.7 73.50h1.3M348.0 76.14h1.3M347.7 78.77h1.3M347.9 84.04h1.3M347.2 89.32h1.3M348.0 91.95h1.3M347.7 105.13h1.3M347.9 110.40h1.3M347.6 115.68h1.3M347.2 118.31h1.3M347.9 131.49h1.3M347.6 134.13h1.3M347.8 136.76h1.3M347.7 147.31h1.3M348.1 149.94h1.3M347.2 152.58h1.3M347.9 163.12h1.3M348.1 168.40h1.3M347.7 171.03h1.3M347.4 178.94h1.3M347.3 184.21h1.3M348.1 186.85h1.3M347.5 189.48h1.3M347.4 197.39h1.3M347.3 200.03h1.3M348.0 210.57h1.3M348.0 221.12h1.3M347.9 229.02h1.3M347.4 231.66h1.3M347.5 244.84h1.3M348.1 263.29h1.3M347.8 268.56h1.3M347.6 271.20h1.3M347.4 273.84h1.3M348.2 279.11h1.3M347.9 294.92h1.3M347.3 297.56h1.3M347.3 300.20h1.3M347.3 302.83h1.3M347.8 305.47h1.3M348.0 308.10h1.3M347.5 310.74h1.3M348.0 316.01h1.3M348.1 318.65h1.3M348.1 321.28h1.3M347.6 329.19h1.3M347.2 331.83h1.3M347.5 334.46h1.3M348.0 342.37h1.3M347.6 350.28h1.3M348.0 352.92h1.3M347.4 355.55h1.3M347.4 358.19h1.3M347.4 360.82h1.3M347.7 363.46h1.3M347.9 366.10h1.3M347.6 368.73h1.3M347.3 379.28h1.3M347.5 392.46h1.3M347.3 397.73h1.3M347.7 405.64h1.3M347.7 413.54h1.3M347.5 416.18h1.3M347.9 421.45h1.3M347.7 424.09h1.3M347.8 429.36h1.3M347.3 434.63h1.3M348.0 437.27h1.3M348.0 442.54h1.3M347.9 445.18h1.3M348.0 458.36h1.3" stroke="#fcd6ba" stroke-width="1.05" fill="none"/>
<path d="M353.6 7.60h2.4M348.8 10.24h2.4M355.0 12.87h2.4M353.1 15.51h2.4M345.3 20.78h2.4M355.4 23.42h2.4M354.8 26.05h2.4M349.3 28.69h2.4M345.9 33.96h2.4M353.4 36.60h2.4M353.1 39.23h2.4M355.5 41.87h2.4M345.5 44.50h2.4M348.1 47.14h2.4M354.7 49.78h2.4M354.5 52.41h2.4M352.7 57.68h2.4M354.3 60.32h2.4M346.4 62.96h2.4M353.5 65.59h2.4M351.1 68.23h2.4M345.4 70.86h2.4M353.6 73.50h2.4M355.3 76.14h2.4M355.6 78.77h2.4M349.1 81.41h2.4M354.8 84.04h2.4M354.8 89.32h2.4M354.5 91.95h2.4M353.6 94.59h2.4M345.3 97.22h2.4M349.5 99.86h2.4M345.6 102.50h2.4M354.5 105.13h2.4M350.0 107.77h2.4M354.6 110.40h2.4M345.4 113.04h2.4M353.8 118.31h2.4M354.5 123.58h2.4M347.5 126.22h2.4M354.7 128.86h2.4M352.4 131.49h2.4M352.1 136.76h2.4M354.3 142.04h2.4M355.5 144.67h2.4M369.2 147.31h2.4M352.4 149.94h2.4M353.0 152.58h2.4M353.4 165.76h2.4M354.0 168.40h2.4M353.7 176.30h2.4M353.9 178.94h2.4M348.8 181.58h2.4M351.1 184.21h2.4M390.0 189.48h2.4M346.0 194.76h2.4M352.8 197.39h2.4M352.5 202.66h2.4M351.7 207.94h2.4M352.8 210.57h2.4M352.0 215.84h2.4M351.9 221.12h2.4M348.9 223.75h2.4M353.1 226.39h2.4M353.4 229.02h2.4M353.6 231.66h2.4M352.2 244.84h2.4M353.4 247.48h2.4M348.7 255.38h2.4M353.9 258.02h2.4M355.5 263.29h2.4M352.0 265.93h2.4M353.1 268.56h2.4M354.5 271.20h2.4M353.5 273.84h2.4M352.8 279.11h2.4M349.6 284.38h2.4M353.6 289.65h2.4M351.0 292.29h2.4M354.9 294.92h2.4M354.5 297.56h2.4M352.9 300.20h2.4M354.7 302.83h2.4M357.1 305.47h2.4M354.3 308.10h2.4M354.4 310.74h2.4M353.3 316.01h2.4M353.5 321.28h2.4M353.7 323.92h2.4M351.8 326.56h2.4M353.8 329.19h2.4M354.6 331.83h2.4M353.6 334.46h2.4M353.3 337.10h2.4M354.0 339.74h2.4M351.0 342.37h2.4M350.3 345.01h2.4M349.8 347.64h2.4M350.5 350.28h2.4M352.7 352.92h2.4M351.5 355.55h2.4M353.4 358.19h2.4M353.2 360.82h2.4M353.4 363.46h2.4M353.6 366.10h2.4M353.6 368.73h2.4M354.1 371.37h2.4M349.6 374.00h2.4M352.3 376.64h2.4M351.6 381.91h2.4M349.9 389.82h2.4M353.6 392.46h2.4M352.8 395.09h2.4M354.1 397.73h2.4M353.1 400.36h2.4M355.0 403.00h2.4M354.4 405.64h2.4M348.6 408.27h2.4M352.1 410.91h2.4M351.8 413.54h2.4M354.1 416.18h2.4M352.4 418.82h2.4M352.0 421.45h2.4M353.1 424.09h2.4M346.2 426.72h2.4M352.0 429.36h2.4M352.0 432.00h2.4M352.1 434.63h2.4M355.2 437.27h2.4M356.8 442.54h2.4M355.5 445.18h2.4M354.0 447.81h2.4M348.8 453.08h2.4M354.2 455.72h2.4M355.4 458.36h2.4" stroke="#f8c776" stroke-width="1.05" fill="none"/>
<path d="M357.2 7.60h1.6M352.4 10.24h1.6M358.6 12.87h1.6M356.7 15.51h1.6M349.8 18.14h1.6M348.9 20.78h1.6M358.4 26.05h1.6M352.9 28.69h1.6M349.5 33.96h1.6M357.0 36.60h1.6M356.7 39.23h1.6M349.1 44.50h1.6M351.7 47.14h1.6M358.3 49.78h1.6M358.1 52.41h1.6M356.3 57.68h1.6M357.9 60.32h1.6M350.0 62.96h1.6M357.1 65.59h1.6M354.7 68.23h1.6M357.2 73.50h1.6M358.9 76.14h1.6M359.2 78.77h1.6M358.4 84.04h1.6M357.5 86.68h1.6M358.4 89.32h1.6M358.1 91.95h1.6M348.9 97.22h1.6M353.1 99.86h1.6M349.2 102.50h1.6M358.1 105.13h1.6M353.6 107.77h1.6M358.2 110.40h1.6M349.0 113.04h1.6M358.2 115.68h1.6M357.4 118.31h1.6M347.9 120.95h1.6M358.1 123.58h1.6M351.1 126.22h1.6M358.3 128.86h1.6M356.0 131.49h1.6M357.6 134.13h1.6M355.7 136.76h1.6M345.5 139.40h1.6M357.9 142.04h1.6M359.1 144.67h1.6M372.8 147.31h1.6M356.0 149.94h1.6M356.6 152.58h1.6M347.0 160.49h1.6M356.8 163.12h1.6M357.0 165.76h1.6M357.6 168.40h1.6M362.7 171.03h1.6M357.3 176.30h1.6M352.4 181.58h1.6M354.7 184.21h1.6M358.0 186.85h1.6M393.6 189.48h1.6M349.6 194.76h1.6M356.1 202.66h1.6M355.3 207.94h1.6M355.6 215.84h1.6M355.5 221.12h1.6M352.5 223.75h1.6M357.0 229.02h1.6M357.2 231.66h1.6M355.8 244.84h1.6M357.0 247.48h1.6M345.4 250.11h1.6M345.3 252.75h1.6M352.3 255.38h1.6M357.5 258.02h1.6M355.6 265.93h1.6M356.7 268.56h1.6M358.1 271.20h1.6M357.1 273.84h1.6M356.4 279.11h1.6M357.2 281.74h1.6M358.5 294.92h1.6M358.1 297.56h1.6M356.5 300.20h1.6M358.3 302.83h1.6M360.7 305.47h1.6M357.9 308.10h1.6M358.0 310.74h1.6M347.6 313.38h1.6M356.9 316.01h1.6M357.4 318.65h1.6M355.4 326.56h1.6M357.4 329.19h1.6M358.2 331.83h1.6M357.2 334.46h1.6M357.6 339.74h1.6M354.6 342.37h1.6M353.9 345.01h1.6M353.4 347.64h1.6M354.1 350.28h1.6M356.3 352.92h1.6M355.1 355.55h1.6M357.0 358.19h1.6M356.8 360.82h1.6M357.0 363.46h1.6M357.2 366.10h1.6M357.2 368.73h1.6M357.7 371.37h1.6M353.2 374.00h1.6M355.9 376.64h1.6M355.4 379.28h1.6M355.2 381.91h1.6M347.7 384.55h1.6M353.5 389.82h1.6M357.2 392.46h1.6M356.4 395.09h1.6M357.7 397.73h1.6M358.6 403.00h1.6M358.0 405.64h1.6M352.2 408.27h1.6M357.7 416.18h1.6M356.0 418.82h1.6M355.6 421.45h1.6M356.7 424.09h1.6M349.8 426.72h1.6M355.6 429.36h1.6M355.6 432.00h1.6M355.7 434.63h1.6M358.8 437.27h1.6M360.4 442.54h1.6M359.1 445.18h1.6M357.6 447.81h1.6M353.5 450.45h1.6M357.8 455.72h1.6M359.0 458.36h1.6M385.0 171.03h2.6" stroke="#cce7b1" stroke-width="1.05" fill="none"/>
<path d="M359.6 7.60h2.4M361.0 12.87h2.4M359.1 15.51h2.4M352.2 18.14h2.4M351.3 20.78h2.4M361.4 23.42h2.4M360.8 26.05h2.4M355.3 28.69h2.4M351.9 33.96h2.4M359.4 36.60h2.4M359.1 39.23h2.4M361.5 41.87h2.4M351.5 44.50h2.4M354.1 47.14h2.4M360.7 49.78h2.4M360.5 52.41h2.4M351.2 55.05h2.4M360.3 60.32h2.4M352.4 62.96h2.4M359.5 65.59h2.4M357.1 68.23h2.4M351.4 70.86h2.4M359.6 73.50h2.4M361.3 76.14h2.4M361.6 78.77h2.4M355.1 81.41h2.4M360.8 84.04h2.4M359.9 86.68h2.4M360.8 89.32h2.4M359.6 94.59h2.4M351.3 97.22h2.4M351.6 102.50h2.4M360.5 105.13h2.4M356.0 107.77h2.4M360.6 110.40h2.4M351.4 113.04h2.4M360.6 115.68h2.4M359.8 118.31h2.4M350.3 120.95h2.4M360.5 123.58h2.4M353.5 126.22h2.4M360.7 128.86h2.4M358.4 131.49h2.4M360.0 134.13h2.4M358.1 136.76h2.4M347.9 139.40h2.4M361.5 144.67h2.4M375.2 147.31h2.4M358.4 149.94h2.4M359.0 152.58h2.4M348.3 157.85h2.4M349.4 160.49h2.4M359.2 163.12h2.4M360.0 168.40h2.4M365.1 171.03h2.4M359.7 176.30h2.4M359.9 178.94h2.4M354.8 181.58h2.4M357.1 184.21h2.4M360.4 186.85h2.4M396.0 189.48h2.4M352.0 194.76h2.4M358.8 197.39h2.4M345.9 205.30h2.4M357.7 207.94h2.4M358.8 210.57h2.4M347.4 213.21h2.4M358.0 215.84h2.4M357.9 221.12h2.4M354.9 223.75h2.4M359.1 226.39h2.4M359.4 229.02h2.4M359.6 231.66h2.4M346.0 234.30h2.4M344.9 242.20h2.4M358.2 244.84h2.4M359.4 247.48h2.4M347.8 250.11h2.4M347.7 252.75h2.4M354.7 255.38h2.4M359.9 258.02h2.4M349.0 260.66h2.4M358.0 265.93h2.4M359.1 268.56h2.4M360.5 271.20h2.4M359.5 273.84h2.4M358.8 279.11h2.4M355.6 284.38h2.4M359.6 289.65h2.4M357.0 292.29h2.4M360.9 294.92h2.4M360.5 297.56h2.4M358.9 300.20h2.4M360.7 302.83h2.4M363.1 305.47h2.4M360.3 308.10h2.4M360.4 310.74h2.4M350.0 313.38h2.4M359.3 316.01h2.4M359.8 318.65h2.4M359.5 321.28h2.4M359.7 323.92h2.4M357.8 326.56h2.4M359.8 329.19h2.4M359.6 334.46h2.4M359.3 337.10h2.4M360.0 339.74h2.4M356.3 345.01h2.4M355.8 347.64h2.4M356.5 350.28h2.4M358.7 352.92h2.4M357.5 355.55h2.4M359.4 358.19h2.4M359.4 363.46h2.4M359.6 366.10h2.4M359.6 368.73h2.4M360.1 371.37h2.4M355.6 374.00h2.4M358.3 376.64h2.4M357.8 379.28h2.4M357.6 381.91h2.4M350.1 384.55h2.4M346.2 387.18h2.4M355.9 389.82h2.4M359.6 392.46h2.4M358.8 395.09h2.4M359.1 400.36h2.4M361.0 403.00h2.4M360.4 405.64h2.4M354.6 408.27h2.4M358.1 410.91h2.4M357.8 413.54h2.4M360.1 416.18h2.4M358.4 418.82h2.4M358.0 421.45h2.4M359.1 424.09h2.4M352.2 426.72h2.4M358.0 429.36h2.4M358.0 432.00h2.4M358.1 434.63h2.4M361.2 437.27h2.4M362.8 442.54h2.4M361.5 445.18h2.4M360.0 447.81h2.4M355.9 450.45h2.4M354.8 453.08h2.4M360.2 455.72h2.4M389.5 171.03h2.1" stroke="#cbc2e3" stroke-width="1.05" fill="none"/>
<path d="M364.7 7.60h3.1M359.9 10.24h3.1M366.1 12.87h3.1M364.2 15.51h3.1M357.3 18.14h3.1M356.4 20.78h3.1M366.5 23.42h3.1M365.9 26.05h3.1M360.4 28.69h3.1M346.1 31.32h3.1M357.0 33.96h3.1M364.5 36.60h3.1M364.2 39.23h3.1M366.6 41.87h3.1M356.6 44.50h3.1M359.2 47.14h3.1M365.8 49.78h3.1M365.6 52.41h3.1M356.3 55.05h3.1M363.8 57.68h3.1M365.4 60.32h3.1M357.5 62.96h3.1M364.6 65.59h3.1M362.2 68.23h3.1M356.5 70.86h3.1M364.7 73.50h3.1M366.4 76.14h3.1M366.7 78.77h3.1M360.2 81.41h3.1M365.9 84.04h3.1M365.0 86.68h3.1M365.9 89.32h3.1M365.6 91.95h3.1M364.7 94.59h3.1M356.4 97.22h3.1M360.6 99.86h3.1M356.7 102.50h3.1M365.6 105.13h3.1M361.1 107.77h3.1M365.7 110.40h3.1M356.5 113.04h3.1M365.7 115.68h3.1M364.9 118.31h3.1M355.4 120.95h3.1M365.6 123.58h3.1M358.6 126.22h3.1M365.8 128.86h3.1M363.5 131.49h3.1M365.1 134.13h3.1M363.2 136.76h3.1M353.0 139.40h3.1M365.4 142.04h3.1M366.6 144.67h3.1M380.3 147.31h3.1M363.5 149.94h3.1M364.1 152.58h3.1M348.4 155.22h3.1M353.4 157.85h3.1M354.5 160.49h3.1M364.3 163.12h3.1M364.5 165.76h3.1M365.1 168.40h3.1M370.2 171.03h3.1M364.8 176.30h3.1M365.0 178.94h3.1M359.9 181.58h3.1M362.2 184.21h3.1M365.5 186.85h3.1M401.1 189.48h3.1M357.1 194.76h3.1M363.9 197.39h3.1M350.7 200.03h3.1M363.6 202.66h3.1M351.0 205.30h3.1M362.8 207.94h3.1M363.9 210.57h3.1M352.5 213.21h3.1M363.1 215.84h3.1M363.0 221.12h3.1M360.0 223.75h3.1M364.2 226.39h3.1M364.5 229.02h3.1M364.7 231.66h3.1M351.1 234.30h3.1M349.6 236.93h3.1M345.3 239.57h3.1M350.0 242.20h3.1M363.3 244.84h3.1M364.5 247.48h3.1M352.9 250.11h3.1M352.8 252.75h3.1M359.8 255.38h3.1M365.0 258.02h3.1M354.1 260.66h3.1M366.6 263.29h3.1M363.1 265.93h3.1M364.2 268.56h3.1M365.6 271.20h3.1M364.6 273.84h3.1M349.8 276.47h3.1M363.9 279.11h3.1M364.7 281.74h3.1M360.7 284.38h3.1M349.0 287.02h3.1M364.7 289.65h3.1M362.1 292.29h3.1M366.0 294.92h3.1M365.6 297.56h3.1M364.0 300.20h3.1M365.8 302.83h3.1M368.2 305.47h3.1M365.4 308.10h3.1M365.5 310.74h3.1M355.1 313.38h3.1M364.4 316.01h3.1M364.9 318.65h3.1M364.6 321.28h3.1M364.8 323.92h3.1M362.9 326.56h3.1M364.9 329.19h3.1M365.7 331.83h3.1M364.7 334.46h3.1M364.4 337.10h3.1M365.1 339.74h3.1M362.1 342.37h3.1M361.4 345.01h3.1M360.9 347.64h3.1M361.6 350.28h3.1M363.8 352.92h3.1M362.6 355.55h3.1M364.5 358.19h3.1M364.3 360.82h3.1M364.5 363.46h3.1M364.7 366.10h3.1M364.7 368.73h3.1M365.2 371.37h3.1M360.7 374.00h3.1M363.4 376.64h3.1M362.9 379.28h3.1M362.7 381.91h3.1M355.2 384.55h3.1M351.3 387.18h3.1M361.0 389.82h3.1M364.7 392.46h3.1M363.9 395.09h3.1M365.2 397.73h3.1M364.2 400.36h3.1M366.1 403.00h3.1M365.5 405.64h3.1M359.7 408.27h3.1M363.2 410.91h3.1M362.9 413.54h3.1M365.2 416.18h3.1M363.5 418.82h3.1M363.1 421.45h3.1M364.2 424.09h3.1M357.3 426.72h3.1M363.1 429.36h3.1M363.1 432.00h3.1M363.2 434.63h3.1M366.3 437.27h3.1M367.9 442.54h3.1M366.6 445.18h3.1M365.1 447.81h3.1M361.0 450.45h3.1M359.9 453.08h3.1M365.3 455.72h3.1M366.5 458.36h3.1M393.6 171.03h2.6" stroke="#f6a5ba" stroke-width="1.05" fill="none"/>
<path d="M365.4 7.60h1.6M360.6 10.24h1.6M366.8 12.87h1.6M364.9 15.51h1.6M358.0 18.14h1.6M357.1 20.78h1.6M367.2 23.42h1.6M366.6 26.05h1.6M361.1 28.69h1.6M346.8 31.32h1.6M357.7 33.96h1.6M365.2 36.60h1.6M364.9 39.23h1.6M367.3 41.87h1.6M357.3 44.50h1.6M359.9 47.14h1.6M366.5 49.78h1.6M366.3 52.41h1.6M357.0 55.05h1.6M364.5 57.68h1.6M366.1 60.32h1.6M358.2 62.96h1.6M365.3 65.59h1.6M362.9 68.23h1.6M357.2 70.86h1.6M365.4 73.50h1.6M367.1 76.14h1.6M367.4 78.77h1.6M360.9 81.41h1.6M366.6 84.04h1.6M365.7 86.68h1.6M366.6 89.32h1.6M366.3 91.95h1.6M365.4 94.59h1.6M357.1 97.22h1.6M361.3 99.86h1.6M357.4 102.50h1.6M366.3 105.13h1.6M361.8 107.77h1.6M366.4 110.40h1.6M357.2 113.04h1.6M366.4 115.68h1.6M365.6 118.31h1.6M356.1 120.95h1.6M366.3 123.58h1.6M359.3 126.22h1.6M366.5 128.86h1.6M364.2 131.49h1.6M365.8 134.13h1.6M363.9 136.76h1.6M353.7 139.40h1.6M366.1 142.04h1.6M367.3 144.67h1.6M381.0 147.31h1.6M364.2 149.94h1.6M364.8 152.58h1.6M349.1 155.22h1.6M354.1 157.85h1.6M355.2 160.49h1.6M365.0 163.12h1.6M365.2 165.76h1.6M365.8 168.40h1.6M370.9 171.03h1.6M365.5 176.30h1.6M365.7 178.94h1.6M360.6 181.58h1.6M362.9 184.21h1.6M366.2 186.85h1.6M401.8 189.48h1.6M357.8 194.76h1.6M364.6 197.39h1.6M351.4 200.03h1.6M364.3 202.66h1.6M351.7 205.30h1.6M363.5 207.94h1.6M364.6 210.57h1.6M353.2 213.21h1.6M363.8 215.84h1.6M363.7 221.12h1.6M360.7 223.75h1.6M364.9 226.39h1.6M365.2 229.02h1.6M365.4 231.66h1.6M351.8 234.30h1.6M350.3 236.93h1.6M346.0 239.57h1.6M350.7 242.20h1.6M364.0 244.84h1.6M365.2 247.48h1.6M353.6 250.11h1.6M353.5 252.75h1.6M360.5 255.38h1.6M365.7 258.02h1.6M354.8 260.66h1.6M367.3 263.29h1.6M363.8 265.93h1.6M364.9 268.56h1.6M366.3 271.20h1.6M365.3 273.84h1.6M350.5 276.47h1.6M364.6 279.11h1.6M365.4 281.74h1.6M361.4 284.38h1.6M349.7 287.02h1.6M365.4 289.65h1.6M362.8 292.29h1.6M366.7 294.92h1.6M366.3 297.56h1.6M364.7 300.20h1.6M366.5 302.83h1.6M368.9 305.47h1.6M366.1 308.10h1.6M366.2 310.74h1.6M355.8 313.38h1.6M365.1 316.01h1.6M365.6 318.65h1.6M365.3 321.28h1.6M365.5 323.92h1.6M363.6 326.56h1.6M365.6 329.19h1.6M366.4 331.83h1.6M365.4 334.46h1.6M365.1 337.10h1.6M365.8 339.74h1.6M362.8 342.37h1.6M362.1 345.01h1.6M361.6 347.64h1.6M362.3 350.28h1.6M364.5 352.92h1.6M363.3 355.55h1.6M365.2 358.19h1.6M365.0 360.82h1.6M365.2 363.46h1.6M365.4 366.10h1.6M365.4 368.73h1.6M365.9 371.37h1.6M361.4 374.00h1.6M364.1 376.64h1.6M363.6 379.28h1.6M363.4 381.91h1.6M355.9 384.55h1.6M352.0 387.18h1.6M361.7 389.82h1.6M365.4 392.46h1.6M364.6 395.09h1.6M365.9 397.73h1.6M364.9 400.36h1.6M366.8 403.00h1.6M366.2 405.64h1.6M360.4 408.27h1.6M363.9 410.91h1.6M363.6 413.54h1.6M365.9 416.18h1.6M364.2 418.82h1.6M363.8 421.45h1.6M364.9 424.09h1.6M358.0 426.72h1.6M363.8 429.36h1.6M363.8 432.00h1.6M363.9 434.63h1.6M367.0 437.27h1.6M368.6 442.54h1.6M367.3 445.18h1.6M365.8 447.81h1.6M361.7 450.45h1.6M360.6 453.08h1.6M366.0 455.72h1.6M367.2 458.36h1.6M394.3 171.03h1.4" stroke="#ed7384" stroke-width="1.05" fill="none"/>
<path d="M368.8 7.60h2.3M364.0 10.24h2.3M370.2 12.87h2.3M368.3 15.51h2.3M361.4 18.14h2.3M360.5 20.78h2.3M370.6 23.42h2.3M370.0 26.05h2.3M364.5 28.69h2.3M350.2 31.32h2.3M361.1 33.96h2.3M368.6 36.60h2.3M368.3 39.23h2.3M370.7 41.87h2.3M360.7 44.50h2.3M363.3 47.14h2.3M369.9 49.78h2.3M369.7 52.41h2.3M360.4 55.05h2.3M367.9 57.68h2.3M369.5 60.32h2.3M361.6 62.96h2.3M368.7 65.59h2.3M366.3 68.23h2.3M360.6 70.86h2.3M368.8 73.50h2.3M370.5 76.14h2.3M370.8 78.77h2.3M364.3 81.41h2.3M370.0 84.04h2.3M369.1 86.68h2.3M370.0 89.32h2.3M369.7 91.95h2.3M368.8 94.59h2.3M360.5 97.22h2.3M364.7 99.86h2.3M360.8 102.50h2.3M369.7 105.13h2.3M365.2 107.77h2.3M369.8 110.40h2.3M360.6 113.04h2.3M369.8 115.68h2.3M369.0 118.31h2.3M359.5 120.95h2.3M369.7 123.58h2.3M362.7 126.22h2.3M369.9 128.86h2.3M367.6 131.49h2.3M369.2 134.13h2.3M367.3 136.76h2.3M357.1 139.40h2.3M369.5 142.04h2.3M370.7 144.67h2.3M384.4 147.31h2.3M367.6 149.94h2.3M368.2 152.58h2.3M352.5 155.22h2.3M357.5 157.85h2.3M358.6 160.49h2.3M368.4 163.12h2.3M368.6 165.76h2.3M369.2 168.40h2.3M374.3 171.03h2.3M347.0 173.67h2.3M368.9 176.30h2.3M369.1 178.94h2.3M364.0 181.58h2.3M366.3 184.21h2.3M369.6 186.85h2.3M405.2 189.48h2.3M361.2 194.76h2.3M368.0 197.39h2.3M354.8 200.03h2.3M367.7 202.66h2.3M355.1 205.30h2.3M366.9 207.94h2.3M368.0 210.57h2.3M356.6 213.21h2.3M367.2 215.84h2.3M347.2 218.48h2.3M367.1 221.12h2.3M364.1 223.75h2.3M368.3 226.39h2.3M368.6 229.02h2.3M368.8 231.66h2.3M355.2 234.30h2.3M353.7 236.93h2.3M349.4 239.57h2.3M354.1 242.20h2.3M367.4 244.84h2.3M368.6 247.48h2.3M357.0 250.11h2.3M356.9 252.75h2.3M363.9 255.38h2.3M369.1 258.02h2.3M358.2 260.66h2.3M370.7 263.29h2.3M367.2 265.93h2.3M368.3 268.56h2.3M369.7 271.20h2.3M368.7 273.84h2.3M353.9 276.47h2.3M368.0 279.11h2.3M368.8 281.74h2.3M364.8 284.38h2.3M353.1 287.02h2.3M368.8 289.65h2.3M366.2 292.29h2.3M370.1 294.92h2.3M369.7 297.56h2.3M368.1 300.20h2.3M369.9 302.83h2.3M372.3 305.47h2.3M369.5 308.10h2.3M369.6 310.74h2.3M359.2 313.38h2.3M368.5 316.01h2.3M369.0 318.65h2.3M368.7 321.28h2.3M368.9 323.92h2.3M367.0 326.56h2.3M369.0 329.19h2.3M369.8 331.83h2.3M368.8 334.46h2.3M368.5 337.10h2.3M369.2 339.74h2.3M366.2 342.37h2.3M365.5 345.01h2.3M365.0 347.64h2.3M365.7 350.28h2.3M367.9 352.92h2.3M366.7 355.55h2.3M368.6 358.19h2.3M368.4 360.82h2.3M368.6 363.46h2.3M368.8 366.10h2.3M368.8 368.73h2.3M369.3 371.37h2.3M364.8 374.00h2.3M367.5 376.64h2.3M367.0 379.28h2.3M366.8 381.91h2.3M359.3 384.55h2.3M355.4 387.18h2.3M365.1 389.82h2.3M368.8 392.46h2.3M368.0 395.09h2.3M369.3 397.73h2.3M368.3 400.36h2.3M370.2 403.00h2.3M369.6 405.64h2.3M363.8 408.27h2.3M367.3 410.91h2.3M367.0 413.54h2.3M369.3 416.18h2.3M367.6 418.82h2.3M367.2 421.45h2.3M368.3 424.09h2.3M361.4 426.72h2.3M367.2 429.36h2.3M367.2 432.00h2.3M367.3 434.63h2.3M370.4 437.27h2.3M345.5 439.90h2.3M372.0 442.54h2.3M370.7 445.18h2.3M369.2 447.81h2.3M365.1 450.45h2.3M364.0 453.08h2.3M369.4 455.72h2.3M370.6 458.36h2.3" stroke="#a7d487" stroke-width="1.05" fill="none"/>
<path d="M371.2 7.60h2.0M366.4 10.24h2.0M372.6 12.87h2.0M370.7 15.51h2.0M363.8 18.14h2.0M362.9 20.78h2.0M373.0 23.42h2.0M372.4 26.05h2.0M366.9 28.69h2.0M352.6 31.32h2.0M363.5 33.96h2.0M371.0 36.60h2.0M370.7 39.23h2.0M373.1 41.87h2.0M363.1 44.50h2.0M365.7 47.14h2.0M372.3 49.78h2.0M372.1 52.41h2.0M362.8 55.05h2.0M370.3 57.68h2.0M371.9 60.32h2.0M364.0 62.96h2.0M371.1 65.59h2.0M368.7 68.23h2.0M363.0 70.86h2.0M371.2 73.50h2.0M372.9 76.14h2.0M373.2 78.77h2.0M366.7 81.41h2.0M372.4 84.04h2.0M371.5 86.68h2.0M372.4 89.32h2.0M372.1 91.95h2.0M371.2 94.59h2.0M362.9 97.22h2.0M367.1 99.86h2.0M363.2 102.50h2.0M372.1 105.13h2.0M367.6 107.77h2.0M372.2 110.40h2.0M363.0 113.04h2.0M372.2 115.68h2.0M371.4 118.31h2.0M361.9 120.95h2.0M372.1 123.58h2.0M365.1 126.22h2.0M372.3 128.86h2.0M370.0 131.49h2.0M371.6 134.13h2.0M369.7 136.76h2.0M359.5 139.40h2.0M371.9 142.04h2.0M373.1 144.67h2.0M386.8 147.31h2.0M370.0 149.94h2.0M370.6 152.58h2.0M354.9 155.22h2.0M359.9 157.85h2.0M361.0 160.49h2.0M370.8 163.12h2.0M371.0 165.76h2.0M371.6 168.40h2.0M376.7 171.03h2.0M349.4 173.67h2.0M371.3 176.30h2.0M371.5 178.94h2.0M366.4 181.58h2.0M368.7 184.21h2.0M372.0 186.85h2.0M407.6 189.48h2.0M346.3 192.12h2.0M363.6 194.76h2.0M370.4 197.39h2.0M357.2 200.03h2.0M370.1 202.66h2.0M357.5 205.30h2.0M369.3 207.94h2.0M370.4 210.57h2.0M359.0 213.21h2.0M369.6 215.84h2.0M349.6 218.48h2.0M369.5 221.12h2.0M366.5 223.75h2.0M370.7 226.39h2.0M371.0 229.02h2.0M371.2 231.66h2.0M357.6 234.30h2.0M356.1 236.93h2.0M351.8 239.57h2.0M356.5 242.20h2.0M369.8 244.84h2.0M371.0 247.48h2.0M359.4 250.11h2.0M359.3 252.75h2.0M366.3 255.38h2.0M371.5 258.02h2.0M360.6 260.66h2.0M373.1 263.29h2.0M369.6 265.93h2.0M370.7 268.56h2.0M372.1 271.20h2.0M371.1 273.84h2.0M356.3 276.47h2.0M370.4 279.11h2.0M371.2 281.74h2.0M367.2 284.38h2.0M355.5 287.02h2.0M371.2 289.65h2.0M368.6 292.29h2.0M372.5 294.92h2.0M372.1 297.56h2.0M370.5 300.20h2.0M372.3 302.83h2.0M374.7 305.47h2.0M371.9 308.10h2.0M372.0 310.74h2.0M361.6 313.38h2.0M370.9 316.01h2.0M371.4 318.65h2.0M371.1 321.28h2.0M371.3 323.92h2.0M369.4 326.56h2.0M371.4 329.19h2.0M372.2 331.83h2.0M371.2 334.46h2.0M370.9 337.10h2.0M371.6 339.74h2.0M368.6 342.37h2.0M367.9 345.01h2.0M367.4 347.64h2.0M368.1 350.28h2.0M370.3 352.92h2.0M369.1 355.55h2.0M371.0 358.19h2.0M370.8 360.82h2.0M371.0 363.46h2.0M371.2 366.10h2.0M371.2 368.73h2.0M371.7 371.37h2.0M367.2 374.00h2.0M369.9 376.64h2.0M369.4 379.28h2.0M369.2 381.91h2.0M361.7 384.55h2.0M357.8 387.18h2.0M367.5 389.82h2.0M371.2 392.46h2.0M370.4 395.09h2.0M371.7 397.73h2.0M370.7 400.36h2.0M372.6 403.00h2.0M372.0 405.64h2.0M366.2 408.27h2.0M369.7 410.91h2.0M369.4 413.54h2.0M371.7 416.18h2.0M370.0 418.82h2.0M369.6 421.45h2.0M370.7 424.09h2.0M363.8 426.72h2.0M369.6 429.36h2.0M369.6 432.00h2.0M369.7 434.63h2.0M372.8 437.27h2.0M347.9 439.90h2.0M374.4 442.54h2.0M373.1 445.18h2.0M371.6 447.81h2.0M367.5 450.45h2.0M366.4 453.08h2.0M371.8 455.72h2.0M373.0 458.36h2.0" stroke="#f7e37d" stroke-width="1.05" fill="none"/>
<path d="M374.2 7.60h2.4M369.4 10.24h2.4M375.6 12.87h2.4M373.7 15.51h2.4M366.8 18.14h2.4M365.9 20.78h2.4M376.0 23.42h2.4M375.4 26.05h2.4M369.9 28.69h2.4M355.6 31.32h2.4M366.5 33.96h2.4M374.0 36.60h2.4M373.7 39.23h2.4M376.1 41.87h2.4M366.1 44.50h2.4M368.7 47.14h2.4M375.3 49.78h2.4M375.1 52.41h2.4M365.8 55.05h2.4M373.3 57.68h2.4M374.9 60.32h2.4M367.0 62.96h2.4M374.1 65.59h2.4M371.7 68.23h2.4M366.0 70.86h2.4M374.2 73.50h2.4M375.9 76.14h2.4M376.2 78.77h2.4M369.7 81.41h2.4M375.4 84.04h2.4M374.5 86.68h2.4M375.4 89.32h2.4M375.1 91.95h2.4M374.2 94.59h2.4M365.9 97.22h2.4M370.1 99.86h2.4M366.2 102.50h2.4M375.1 105.13h2.4M370.6 107.77h2.4M375.2 110.40h2.4M366.0 113.04h2.4M375.2 115.68h2.4M374.4 118.31h2.4M364.9 120.95h2.4M375.1 123.58h2.4M368.1 126.22h2.4M375.3 128.86h2.4M373.0 131.49h2.4M374.6 134.13h2.4M372.7 136.76h2.4M362.5 139.40h2.4M374.9 142.04h2.4M376.1 144.67h2.4M389.8 147.31h2.4M373.0 149.94h2.4M373.6 152.58h2.4M357.9 155.22h2.4M362.9 157.85h2.4M364.0 160.49h2.4M373.8 163.12h2.4M374.0 165.76h2.4M374.6 168.40h2.4M379.7 171.03h2.4M352.4 173.67h2.4M374.3 176.30h2.4M374.5 178.94h2.4M369.4 181.58h2.4M371.7 184.21h2.4M375.0 186.85h2.4M410.6 189.48h2.4M349.3 192.12h2.4M366.6 194.76h2.4M373.4 197.39h2.4M360.2 200.03h2.4M373.1 202.66h2.4M360.5 205.30h2.4M372.3 207.94h2.4M373.4 210.57h2.4M362.0 213.21h2.4M372.6 215.84h2.4M352.6 218.48h2.4M372.5 221.12h2.4M369.5 223.75h2.4M373.7 226.39h2.4M374.0 229.02h2.4M374.2 231.66h2.4M360.6 234.30h2.4M359.1 236.93h2.4M354.8 239.57h2.4M359.5 242.20h2.4M372.8 244.84h2.4M374.0 247.48h2.4M362.4 250.11h2.4M362.3 252.75h2.4M369.3 255.38h2.4M374.5 258.02h2.4M363.6 260.66h2.4M376.1 263.29h2.4M372.6 265.93h2.4M373.7 268.56h2.4M375.1 271.20h2.4M374.1 273.84h2.4M359.3 276.47h2.4M373.4 279.11h2.4M374.2 281.74h2.4M370.2 284.38h2.4M358.5 287.02h2.4M374.2 289.65h2.4M371.6 292.29h2.4M375.5 294.92h2.4M375.1 297.56h2.4M373.5 300.20h2.4M375.3 302.83h2.4M377.7 305.47h2.4M374.9 308.10h2.4M375.0 310.74h2.4M364.6 313.38h2.4M373.9 316.01h2.4M374.4 318.65h2.4M374.1 321.28h2.4M374.3 323.92h2.4M372.4 326.56h2.4M374.4 329.19h2.4M375.2 331.83h2.4M374.2 334.46h2.4M373.9 337.10h2.4M374.6 339.74h2.4M371.6 342.37h2.4M370.9 345.01h2.4M370.4 347.64h2.4M371.1 350.28h2.4M373.3 352.92h2.4M372.1 355.55h2.4M374.0 358.19h2.4M373.8 360.82h2.4M374.0 363.46h2.4M374.2 366.10h2.4M374.2 368.73h2.4M374.7 371.37h2.4M370.2 374.00h2.4M372.9 376.64h2.4M372.4 379.28h2.4M372.2 381.91h2.4M364.7 384.55h2.4M360.8 387.18h2.4M370.5 389.82h2.4M374.2 392.46h2.4M373.4 395.09h2.4M374.7 397.73h2.4M373.7 400.36h2.4M375.6 403.00h2.4M375.0 405.64h2.4M369.2 408.27h2.4M372.7 410.91h2.4M372.4 413.54h2.4M374.7 416.18h2.4M373.0 418.82h2.4M372.6 421.45h2.4M373.7 424.09h2.4M366.8 426.72h2.4M372.6 429.36h2.4M372.6 432.00h2.4M372.7 434.63h2.4M375.8 437.27h2.4M350.9 439.90h2.4M377.4 442.54h2.4M376.1 445.18h2.4M374.6 447.81h2.4M370.5 450.45h2.4M369.4 453.08h2.4M374.8 455.72h2.4M376.0 458.36h2.4" stroke="#6cbdb1" stroke-width="1.05" fill="none"/>
<path d="M342.9 461.0H420.1M342.9 461.0v-1.2M420.1 461.0v-1.2" stroke="#c4c4c4" stroke-width="0.5" fill="none"/><g font-family="Liberation Sans, sans-serif" font-size="2.75" fill="#2a2a2a" stroke="#2a2a2a" stroke-width="0.08" text-anchor="middle"><text x="344.8" y="464.9">0</text><text x="352.2" y="464.9">100</text><text x="359.7" y="464.9">200</text><text x="367.2" y="464.9">300</text><text x="374.6" y="464.9">400</text><text x="382.1" y="464.9">500</text><text x="389.5" y="464.9">600</text><text x="396.9" y="464.9">700</text><text x="404.4" y="464.9">800</text><text x="411.9" y="464.9">900</text><text x="419.3" y="464.9">1000</text></g>
<path d="M433.3 7.00H447.3M433.3 9.64H444.5M433.3 12.27H447.3M433.3 14.91H446.4M433.3 17.55H443.6M433.3 20.19H521.8M433.3 22.82H524.5M433.3 25.46H525.5M433.3 28.10H523.6M433.3 30.73H438.7M433.3 33.37H444.5M433.3 36.01H448.2M433.3 38.64H448.2M433.3 41.28H447.3M433.3 43.92H444.2M433.3 46.55H446.4M433.3 49.19H448.2M433.3 51.83H448.2M433.3 54.47H445.5M433.3 57.10H447.3M433.3 59.74H447.3M433.3 62.38H443.6M433.3 65.01H446.4M433.3 67.65H447.3M433.3 70.29H450.0M433.3 72.92H453.3M433.3 75.56H453.6M433.3 78.20H498.2M433.3 80.84H445.5M433.3 83.47H447.3M433.3 86.11H447.3M433.3 88.75H447.3M433.3 91.38H447.3M433.3 94.02H447.3M433.3 96.66H443.6M433.3 99.30H468.2M433.3 101.93H467.3M433.3 104.57H470.4M433.3 107.21H452.2M433.3 109.84H454.5M433.3 112.48H450.9M433.3 115.12H454.5M433.3 117.75H454.5M433.3 120.39H446.4M433.3 123.03H450.0M433.3 125.67H451.8M433.3 128.30H456.4M433.3 130.94H455.5M433.3 133.58H455.5M433.3 136.21H455.1M433.3 138.85H449.6M433.3 141.49H447.3M433.3 144.12H450.9M433.3 146.76H470.4M433.3 149.40H446.4M433.3 152.03H447.3M433.3 154.67H448.2M433.3 157.31H441.8M433.3 159.95H472.7M433.3 162.58H446.4M433.3 165.22H449.1M433.3 167.86H450.9M433.3 170.49H472.7M433.3 173.13H438.2M433.3 175.77H449.1M433.3 178.41H451.8M433.3 181.04H492.7M433.3 183.68H448.2M433.3 186.32H455.5M433.3 188.95H517.3M433.3 191.59H436.4M433.3 194.23H448.2M433.3 196.86H450.9M433.3 199.50H447.3M433.3 202.14H447.3M433.3 204.78H443.6M433.3 207.41H447.3M433.3 210.05H446.4M433.3 212.69H442.7M433.3 215.32H450.0M433.3 217.96H437.3M433.3 220.60H447.3M433.3 223.23H447.3M433.3 225.87H450.0M433.3 228.51H450.0M433.3 231.15H450.0M433.3 233.78H445.5M433.3 236.42H444.5M433.3 239.06H440.0M433.3 241.69H441.8M433.3 244.33H481.8M433.3 246.97H446.4M433.3 249.60H442.7M433.3 252.24H441.8M433.3 254.88H446.4M433.3 257.51H446.4M433.3 260.15H442.7M433.3 262.79H446.4M433.3 265.43H446.4M433.3 268.06H452.7M433.3 270.70H456.4M433.3 273.34H447.3M433.3 275.97H440.0M433.3 278.61H448.2M433.3 281.25H450.9M433.3 283.88H455.5M433.3 286.52H440.0M433.3 289.16H445.5M433.3 291.80H451.8M433.3 294.43H446.4M433.3 297.07H446.4M433.3 299.71H446.4M433.3 302.34H446.4M433.3 304.98H446.4M433.3 307.62H446.4M433.3 310.25H447.3M433.3 312.89H444.5M433.3 315.53H446.4M433.3 318.17H446.4M433.3 320.80H446.4M433.3 323.44H446.4M433.3 326.08H477.3M433.3 328.71H446.4M433.3 331.35H446.4M433.3 333.99H446.4M433.3 336.62H452.7M433.3 339.26H446.4M433.3 341.90H447.3M433.3 344.54H446.4M433.3 347.17H446.4M433.3 349.81H446.4M433.3 352.45H446.4M433.3 355.08H445.5M433.3 357.72H446.4M433.3 360.36H446.4M433.3 363.00H446.4M433.3 365.63H446.4M433.3 368.27H446.4M433.3 370.91H460.5M433.3 373.54H445.5M433.3 376.18H445.5M433.3 378.82H446.4M433.3 381.45H446.4M433.3 384.09H446.4M433.3 386.73H441.8M433.3 389.37H444.5M433.3 392.00H446.4M433.3 394.64H479.0M433.3 397.28H446.4M433.3 399.91H446.4M433.3 402.55H446.4M433.3 405.19H443.6M433.3 407.82H445.5M433.3 410.46H446.4M433.3 413.10H446.4M433.3 415.74H446.4M433.3 418.37H454.5M433.3 421.01H445.5M433.3 423.65H443.6M433.3 426.28H443.6M433.3 428.92H446.4M433.3 431.56H446.4M433.3 434.19H446.4M433.3 436.83H445.5M433.3 439.47H437.3M433.3 442.11H459.0M433.3 444.74H446.4M433.3 447.38H446.4M433.3 450.02H446.4M433.3 452.65H446.4M433.3 455.29H446.4M433.3 457.93H446.4" stroke="#b8b8b8" stroke-width="0.5" fill="none"/>
<path d="M433.3 7.00H438.4M438.8 7.00H447.3M433.3 9.64H441.1M441.5 9.64H444.5M433.3 12.27H443.5M443.9 12.27H447.3M433.3 14.91H438.6M439.0 14.91H446.4M433.3 17.55H439.8M440.1 17.55H443.6M433.3 20.19H435.5M513.6 20.19H521.8M433.3 22.82H438.2M516.4 22.82H524.5M433.3 25.46H438.2M517.3 25.46H525.5M433.3 28.10H435.5M515.5 28.10H523.6M433.3 30.73H438.7M433.3 33.37H440.7M441.1 33.37H444.5M433.3 36.01H440.3M440.6 36.01H448.2M433.3 38.64H438.4M438.8 38.64H448.2M433.3 41.28H438.8M439.1 41.28H447.3M433.3 43.92H440.9M441.3 43.92H444.2M433.3 46.55H442.5M442.9 46.55H446.4M433.3 49.19H440.2M440.6 49.19H448.2M433.3 51.83H437.6M438.0 51.83H448.2M433.3 54.47H442.2M442.6 54.47H445.5M433.3 57.10H442.4M442.8 57.10H447.3M433.3 59.74H438.6M439.0 59.74H447.3M433.3 62.38H439.7M440.0 62.38H443.6M433.3 65.01H443.3M443.6 65.01H446.4M433.3 67.65H443.2M443.5 67.65H447.3M433.3 70.29H440.7M441.0 70.29H450.0M433.3 72.92H440.3M440.7 72.92H453.3M433.3 75.56H441.1M441.5 75.56H453.6M433.3 78.20H435.5M482.7 78.20H489.0M490.0 78.20H498.2M433.3 80.84H438.2M438.6 80.84H445.5M433.3 83.47H438.3M438.7 83.47H447.3M433.3 86.11H438.3M438.6 86.11H447.3M433.3 88.75H441.9M442.3 88.75H447.3M433.3 91.38H439.5M439.9 91.38H447.3M433.3 94.02H441.0M441.3 94.02H447.3M433.3 96.66H438.9M439.2 96.66H443.6M433.3 99.30H435.5M460.5 99.30H468.2M433.3 101.93H434.5M459.1 101.93H467.3M433.3 104.57H437.3M462.4 104.57H470.4M433.3 107.21H437.3M444.2 107.21H452.2M433.3 109.84H437.3M446.4 109.84H454.5M433.3 112.48H435.5M442.7 112.48H450.9M433.3 115.12H438.2M446.0 115.12H454.5M433.3 117.75H438.2M446.0 117.75H454.5M433.3 120.39H435.5M438.7 120.39H446.4M433.3 123.03H438.2M441.8 123.03H450.0M433.3 125.67H436.4M440.9 125.67H451.8M433.3 128.30H438.2M447.3 128.30H456.4M433.3 130.94H438.2M447.3 130.94H455.5M433.3 133.58H438.2M447.3 133.58H455.5M433.3 136.21H437.3M446.4 136.21H455.1M433.3 138.85H441.0M449.0 138.85H449.6M433.3 141.49H440.6M441.0 141.49H447.3M433.3 144.12H437.3M442.7 144.12H450.9M433.3 146.76H437.3M441.0 146.76H442.0M450.0 146.76H453.6M455.5 146.76H459.0M462.4 146.76H470.4M433.3 149.40H438.0M438.4 149.40H446.4M433.3 152.03H437.3M437.7 152.03H447.3M433.3 154.67H435.5M440.0 154.67H448.2M433.3 157.31H439.8M440.1 157.31H441.8M433.3 159.95H435.5M467.3 159.95H472.7M433.3 162.58H439.6M440.0 162.58H446.4M433.3 165.22H437.7M438.1 165.22H449.1M433.3 167.86H437.3M440.9 167.86H450.9M433.3 170.49H435.5M442.7 170.49H451.8M455.5 170.49H466.4M467.3 170.49H472.7M433.3 173.13H438.2M433.3 175.77H437.3M440.9 175.77H449.1M433.3 178.41H437.3M443.6 178.41H451.8M433.3 181.04H438.2M488.2 181.04H492.7M433.3 183.68H441.4M441.8 183.68H448.2M433.3 186.32H442.7M446.4 186.32H448.2M455.0 186.32H455.5M433.3 188.95H436.4M440.0 188.95H443.6M482.7 188.95H488.2M493.6 188.95H495.5M499.0 188.95H501.0M505.5 188.95H517.3M433.3 191.59H436.4M433.3 194.23H441.8M444.5 194.23H448.2M433.3 196.86H438.2M443.6 196.86H450.9M433.3 199.50H437.3M440.0 199.50H447.3M433.3 202.14H442.5M442.9 202.14H447.3M433.3 204.78H435.5M438.2 204.78H443.6M433.3 207.41H438.1M438.4 207.41H447.3M433.3 210.05H441.2M441.5 210.05H446.4M433.3 212.69H435.5M438.2 212.69H442.7M433.3 215.32H437.3M442.7 215.32H450.0M433.3 217.96H437.3M433.3 220.60H439.4M439.8 220.60H447.3M433.3 223.23H440.6M441.0 223.23H447.3M433.3 225.87H437.1M437.5 225.87H450.0M433.3 228.51H437.2M437.6 228.51H450.0M433.3 231.15H443.9M444.3 231.15H450.0M433.3 233.78H435.5M439.1 233.78H445.5M433.3 236.42H435.5M438.2 236.42H444.5M433.3 239.06H440.0M433.3 241.69H439.4M439.8 241.69H441.8M433.3 244.33H439.1M474.5 244.33H481.8M433.3 246.97H440.4M440.8 246.97H446.4M433.3 249.60H439.1M439.4 249.60H442.7M433.3 252.24H437.7M438.1 252.24H441.8M433.3 254.88H442.5M442.8 254.88H446.4M433.3 257.51H440.0M440.3 257.51H446.4M433.3 260.15H440.5M440.9 260.15H442.7M433.3 262.79H442.4M442.7 262.79H446.4M433.3 265.43H442.7M443.1 265.43H446.4M433.3 268.06H437.3M440.9 268.06H452.7M433.3 270.70H435.5M443.6 270.70H456.4M433.3 273.34H443.7M444.1 273.34H447.3M433.3 275.97H440.0M433.3 278.61H438.2M440.9 278.61H448.2M433.3 281.25H438.2M442.7 281.25H450.9M433.3 283.88H436.4M446.4 283.88H455.5M433.3 286.52H440.0M433.3 289.16H438.7M439.0 289.16H445.5M433.3 291.80H440.0M446.4 291.80H451.8M433.3 294.43H437.3M437.6 294.43H446.4M433.3 297.07H438.4M438.8 297.07H446.4M433.3 299.71H438.3M438.6 299.71H446.4M433.3 302.34H437.6M437.9 302.34H446.4M433.3 304.98H437.4M437.7 304.98H446.4M433.3 307.62H440.9M441.3 307.62H446.4M433.3 310.25H443.1M443.4 310.25H447.3M433.3 312.89H439.5M439.9 312.89H444.5M433.3 315.53H443.6M444.0 315.53H446.4M433.3 318.17H443.4M443.7 318.17H446.4M433.3 320.80H437.4M437.8 320.80H446.4M433.3 323.44H441.2M441.5 323.44H446.4M433.3 326.08H439.1M470.9 326.08H477.3M433.3 328.71H439.8M440.1 328.71H446.4M433.3 331.35H437.8M438.2 331.35H446.4M433.3 333.99H443.7M444.1 333.99H446.4M433.3 336.62H446.4M452.0 336.62H452.7M433.3 339.26H438.8M439.2 339.26H446.4M433.3 341.90H441.0M441.3 341.90H447.3M433.3 344.54H441.5M441.8 344.54H446.4M433.3 347.17H443.7M444.0 347.17H446.4M433.3 349.81H441.7M442.0 349.81H446.4M433.3 352.45H439.8M440.1 352.45H446.4M433.3 355.08H439.9M440.3 355.08H445.5M433.3 357.72H438.1M438.5 357.72H446.4M433.3 360.36H443.8M444.1 360.36H446.4M433.3 363.00H443.9M444.3 363.00H446.4M433.3 365.63H438.6M438.9 365.63H446.4M433.3 368.27H437.3M437.6 368.27H446.4M433.3 370.91H446.4M458.2 370.91H460.5M433.3 373.54H438.7M439.0 373.54H445.5M433.3 376.18H439.3M439.6 376.18H445.5M433.3 378.82H443.3M443.7 378.82H446.4M433.3 381.45H443.3M443.7 381.45H446.4M433.3 384.09H442.9M443.2 384.09H446.4M433.3 386.73H437.1M437.5 386.73H441.8M433.3 389.37H441.3M441.7 389.37H444.5M433.3 392.00H442.0M442.3 392.00H446.4M433.3 394.64H446.4M461.8 394.64H463.6M465.5 394.64H468.2M471.8 394.64H474.5M477.3 394.64H479.0M433.3 397.28H441.5M441.9 397.28H446.4M433.3 399.91H443.9M444.2 399.91H446.4M433.3 402.55H437.4M437.7 402.55H446.4M433.3 405.19H437.7M438.0 405.19H443.6M433.3 407.82H441.9M442.3 407.82H445.5M433.3 410.46H443.6M443.9 410.46H446.4M433.3 413.10H441.7M442.1 413.10H446.4M433.3 415.74H439.1M439.4 415.74H446.4M433.3 418.37H446.4M448.2 418.37H450.0M451.8 418.37H454.5M433.3 421.01H440.8M441.2 421.01H445.5M433.3 423.65H440.5M440.8 423.65H443.6M433.3 426.28H437.5M437.8 426.28H443.6M433.3 428.92H439.3M439.6 428.92H446.4M433.3 431.56H438.8M439.1 431.56H446.4M433.3 434.19H437.9M438.2 434.19H446.4M433.3 436.83H440.1M440.5 436.83H445.5M433.3 439.47H437.3M433.3 442.11H446.4M457.3 442.11H459.0M433.3 444.74H438.2M438.5 444.74H446.4M433.3 447.38H438.7M439.0 447.38H446.4M433.3 450.02H438.0M438.4 450.02H446.4M433.3 452.65H439.1M441.0 452.65H446.4M433.3 455.29H441.7M442.1 455.29H446.4M433.3 457.93H437.1M437.4 457.93H446.4" stroke="#90c85a" stroke-width="1.0" fill="none"/>
<path d="M432.5 460.2H534.6M432.5 460.2v-1.2M534.6 460.2v-1.2" stroke="#c4c4c4" stroke-width="0.5" fill="none"/><g font-family="Liberation Sans, sans-serif" font-size="2.75" fill="#2a2a2a" stroke="#2a2a2a" stroke-width="0.08" text-anchor="middle"><text x="433.6" y="464.1">0</text><text x="442.6" y="464.1">1000</text><text x="451.6" y="464.1">2000</text><text x="460.6" y="464.1">3000</text><text x="469.6" y="464.1">4000</text><text x="478.6" y="464.1">5000</text><text x="487.6" y="464.1">6000</text><text x="496.6" y="464.1">7000</text><text x="505.6" y="464.1">8000</text><text x="514.6" y="464.1">9000</text><text x="523.6" y="464.1">10000</text><text x="532.6" y="464.1">11000</text></g>
<g font-family="Liberation Sans, sans-serif" font-size="2.8" fill="#8a8a8a">
<rect x="528" y="6.9" width="7" height="1.6" fill="#7f72be"/>
<text x="536" y="8.6">Motif 9</text>
<rect x="528" y="10.7" width="7" height="1.6" fill="#fbc8a0"/>
<text x="536" y="12.4">Motif 10</text>
<rect x="528" y="14.4" width="7" height="1.6" fill="#f7b44c"/>
<text x="536" y="16.1">Motif 8</text>
<rect x="528" y="18.1" width="7" height="1.6" fill="#b9de94"/>
<text x="536" y="19.8">Motif 7</text>
<rect x="528" y="21.8" width="7" height="1.6" fill="#b8acd8"/>
<text x="536" y="23.5">Motif 6</text>
<rect x="528" y="25.4" width="7" height="1.6" fill="#f2819f"/>
<text x="536" y="27.1">Motif 3</text>
<rect x="528" y="29.1" width="7" height="1.6" fill="#e5394f"/>
<text x="536" y="30.8">Motif 5</text>
<rect x="528" y="32.8" width="7" height="1.6" fill="#78bf4a"/>
<text x="536" y="34.5">Motif 1</text>
<rect x="528" y="36.4" width="7" height="1.6" fill="#f4d640"/>
<text x="536" y="38.1">Motif 2</text>
<rect x="528" y="39.8" width="7" height="1.6" fill="#2f9f8f"/>
<text x="536" y="41.5">Motif 4</text>
<rect x="528" y="49.1" width="7.3" height="2" fill="#7dbb45"/><text x="536" y="51.1">CDS</text>
<rect x="528" y="55.0" width="6.3" height="2" fill="#4a90d0"/><text x="536" y="57.0">UTR</text>
</g>
</svg>
</body></html>
